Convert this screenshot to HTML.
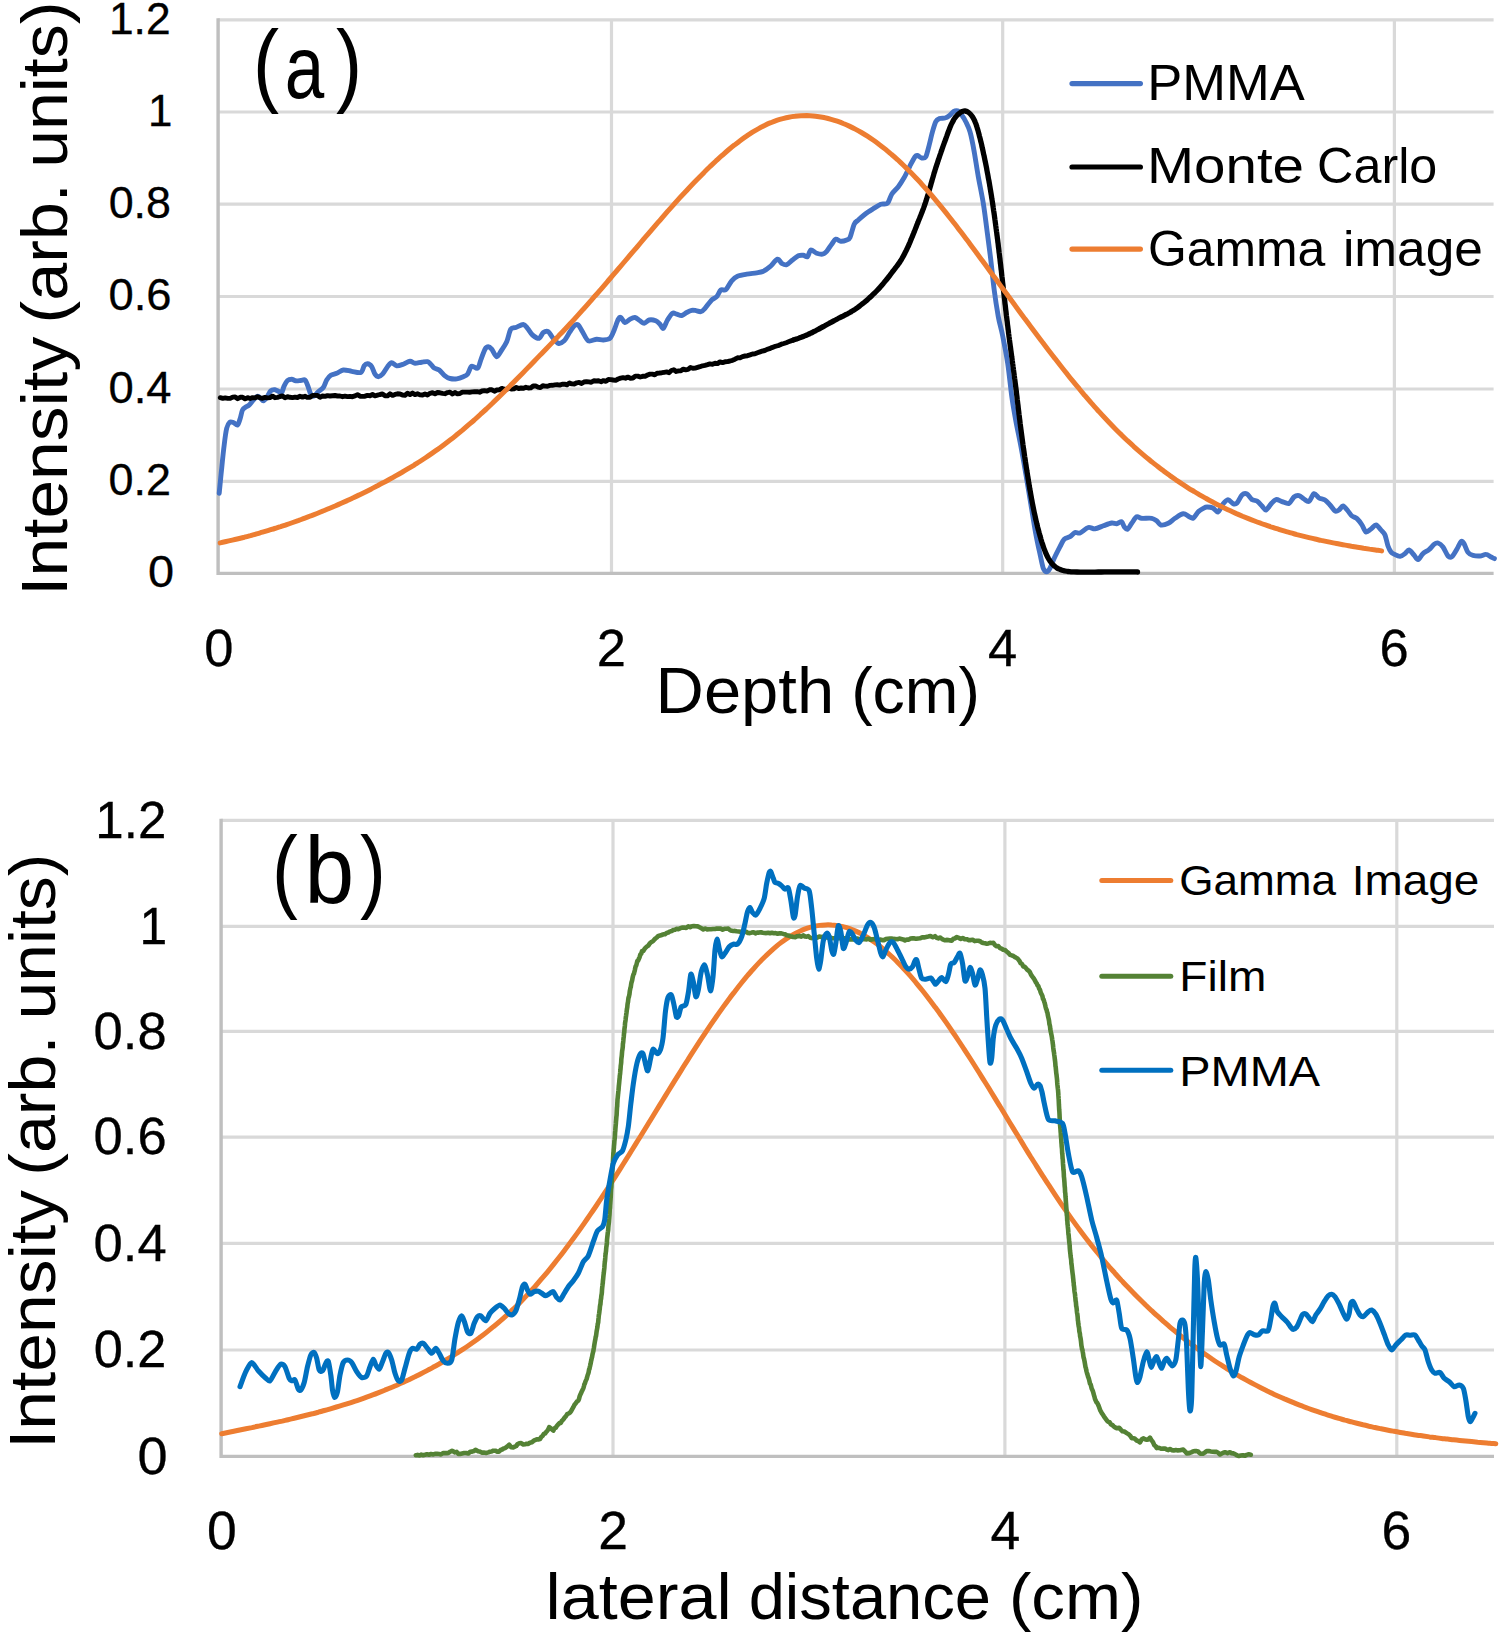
<!DOCTYPE html>
<html lang="en"><head><meta charset="utf-8"><title>Depth and lateral intensity profiles</title>
<style>
html,body{margin:0;padding:0;background:#fff}
svg{display:block}
text{font-family:"Liberation Sans",Arial,sans-serif;fill:#000}
.tk text{stroke:#000;stroke-width:.3px}
.g{stroke:#d9d9d9;stroke-width:3.2;fill:none;stroke-linecap:butt}
.ax{stroke:#bfbfbf;stroke-width:3.4;fill:none}
.c{fill:none;stroke-linejoin:round;stroke-linecap:round}
</style></head><body>
<svg width="1500" height="1638" viewBox="0 0 1500 1638">
<rect width="1500" height="1638" fill="#fff"/>
<g id="chart-a">
<path class="g" d="M218.1 19.8H1493.6 M218.1 112.0H1493.6 M218.1 204.2H1493.6 M218.1 296.5H1493.6 M218.1 389.0H1493.6 M218.1 481.3H1493.6 M611.5 18.3V573.4 M1002.7 18.3V573.4 M1394.4 18.3V573.4"/>
<path class="ax" d="M218.1 18.2V575.1 M216.4 573.4H1493.6"/>
<path class="c" stroke="#4472c4" stroke-width="4.9" d="M219.2 493.3 C219.6 489.6 220.9 475.5 221.7 468.3 C222.4 461.1 223.4 451 224.2 445 C224.9 439 225.9 431.7 226.7 428.3 C227.5 424.9 228.7 423.1 229.7 422.2 C230.7 421.3 232.1 422.1 233.3 422.5 C234.5 422.9 236.5 425.5 237.5 425 C238.5 424.5 239.2 421.4 240 419.2 C240.8 416.9 241.6 411.8 242.5 410 C243.4 408.2 244.8 407.8 245.8 407 C246.8 406.2 248.1 406.1 249.2 405 C250.3 403.9 252.1 401.3 253.3 400 C254.5 398.7 256.4 396.6 257.5 396.3 C258.6 396 259.9 397.6 260.8 398.3 C261.7 399 262.4 400.9 263.3 400.8 C264.2 400.7 265.6 399 266.7 397.5 C267.8 396 269.6 392 270.8 390.8 C272 389.6 273.9 389.6 275 389.7 C276.1 389.8 277.3 390.9 278.3 391.3 C279.3 391.7 280.8 393.3 281.7 392.5 C282.6 391.7 283.3 387.6 284.2 385.8 C285.1 384 286.4 381.5 287.5 380.5 C288.6 379.5 290.5 379.2 291.7 379.2 C292.9 379.2 294.4 380.6 295.8 380.8 C297.2 381 299.4 380.6 300.8 380.5 C302.2 380.4 304 379.3 305 380 C306 380.7 306.6 382.9 307.5 385 C308.4 387.1 309.8 392.6 310.8 394.2 C311.8 395.8 313.1 396.4 314.2 396 C315.3 395.6 316.9 393 318.3 391.7 C319.7 390.4 322 389.3 323.3 387.5 C324.6 385.7 325.6 381.8 326.7 380 C327.8 378.2 329.3 376.3 330.8 375.3 C332.3 374.3 334.8 374.1 336.7 373.3 C338.6 372.5 341.1 370.3 343.3 370 C345.6 369.7 349.1 370.9 351.7 371.3 C354.3 371.7 358.9 373.3 360.8 372.5 C362.7 371.7 363.2 367.1 364.2 365.8 C365.2 364.5 366.4 363.7 367.5 363.8 C368.6 363.9 370.6 365.1 371.7 366.7 C372.8 368.3 374 372.7 375 374.2 C376 375.7 377.2 376.7 378.3 376.7 C379.4 376.7 381.1 375.7 382.5 374.2 C383.9 372.7 386.1 368.4 387.5 366.7 C388.9 365 390.3 362.9 391.7 362.8 C393.1 362.7 395 365.6 396.7 365.8 C398.4 366 401.3 364.9 403.3 364.2 C405.3 363.5 408.2 361.3 410 361.2 C411.8 361.1 413.2 363.2 415 363.3 C416.8 363.4 419.8 362.4 421.7 362.2 C423.6 362 426.1 361.4 427.5 361.7 C428.9 362 429.8 363.3 430.8 364.2 C431.8 365.1 432.9 367.1 434.2 368 C435.5 368.9 437.6 368.8 439.2 370 C440.8 371.2 443.4 374.5 445 375.8 C446.6 377.1 448.2 378.1 450 378.5 C451.8 378.9 454.7 379.1 456.7 378.8 C458.7 378.5 461.7 377.4 463.3 376.7 C464.9 376 466.2 375.8 467.5 374.2 C468.8 372.6 470.2 367.1 471.7 366.2 C473.2 365.3 476.1 369.2 477.5 368.3 C478.9 367.4 479.7 362.9 480.8 360 C481.9 357.1 483.9 351.2 485 349.2 C486.1 347.2 487.3 346.7 488.3 346.7 C489.3 346.7 490.4 347.7 491.7 349.2 C493 350.7 495.2 356.6 496.7 356.7 C498.2 356.8 500.2 352.2 501.7 350 C503.2 347.8 505.3 344.8 506.7 341.7 C508.1 338.6 509.4 331.3 510.8 329.2 C512.2 327.1 513.9 328.2 515.8 327.5 C517.7 326.8 521.5 324.4 523.3 324.5 C525.1 324.6 526.1 326.7 527.5 328.3 C528.9 329.9 530.7 333.5 532.5 335 C534.3 336.5 537.6 338.7 539.2 338.3 C540.8 337.9 541.9 333.5 543.3 332.5 C544.7 331.5 546.9 330.9 548.3 331.7 C549.7 332.4 551 335.8 552.5 337.5 C554 339.2 556.5 342.8 558.3 343.3 C560.1 343.8 562.4 342.5 564.2 340.8 C566 339.1 568.5 333.9 570 331.7 C571.5 329.4 573 326.8 574.2 325.8 C575.4 324.8 577.1 324.1 578.3 325 C579.5 325.9 581 329.3 582.5 331.7 C584 334.1 586.2 339.7 588.3 340.8 C590.4 341.9 594.5 339.3 596.7 339.2 C599 339.1 601.3 340.1 603.3 340 C605.3 339.9 608.4 339.8 610 338.3 C611.6 336.8 613 332.9 614.2 330 C615.4 327.1 617.3 321.1 618.3 319.2 C619.3 317.3 619.8 317 620.8 317.5 C621.8 318 623.6 322.2 625 322.5 C626.4 322.8 628.5 319.9 630 319.2 C631.5 318.4 633.5 317.3 635 317.5 C636.5 317.7 638.6 319.9 640 320.8 C641.4 321.7 642.8 323.4 644.2 323.3 C645.6 323.2 647.5 320.4 649.2 320 C650.9 319.6 654.2 320.2 655.8 320.8 C657.4 321.4 658.9 323.1 660 324.2 C661.1 325.3 662.2 328.9 663.3 328.3 C664.4 327.7 666.1 322.2 667.5 320 C668.9 317.8 671.1 314.2 672.5 313.3 C673.9 312.4 675.3 313.9 676.7 314.2 C678.1 314.5 680.2 315.8 681.7 315.5 C683.2 315.2 685.2 313.3 686.7 312.5 C688.2 311.7 690.3 310.6 691.7 310.3 C693.1 310 694.6 310.4 696 310.6 C697.4 310.8 699.4 312 700.8 311.7 C702.1 311.4 703.4 310.1 705 308.3 C706.6 306.5 709.9 301.7 711.7 300 C713.5 298.3 715.3 298.2 716.7 296.7 C718.1 295.2 719.4 291.1 720.8 290 C722.2 288.9 724.2 291.1 725.8 289.7 C727.4 288.3 729.9 282.8 731.7 280.8 C733.5 278.8 735.2 277.3 737.5 276.3 C739.8 275.3 743.8 274.7 746.7 274.2 C749.6 273.7 754.2 273.2 756.7 272.8 C759.2 272.4 761.3 272.2 763.3 271.3 C765.3 270.4 767.9 268.5 770 266.7 C772.1 264.9 775.7 259.7 777.5 259.2 C779.3 258.7 780.3 262.5 781.7 263.3 C783.1 264.1 785.1 265.2 786.7 264.7 C788.3 264.2 790.8 261.3 792.5 260 C794.2 258.7 796.7 256.5 798.3 255.8 C799.9 255.1 801.9 255.2 803.3 255.3 C804.7 255.4 806.4 257.5 807.5 256.7 C808.6 255.9 809.4 250.5 810.8 250 C812.2 249.5 814.9 252.7 816.7 253.3 C818.5 253.9 821 254.5 822.5 254.2 C824 253.9 825.3 252.8 826.7 251.3 C828.1 249.8 830.3 246 831.7 244.2 C833.1 242.4 834.4 239.6 835.8 239.2 C837.2 238.8 839.2 241.2 840.8 241.3 C842.4 241.4 845.3 240.6 846.7 240 C848.1 239.4 848.9 239.9 850 237.5 C851.1 235.1 853 226.8 854.2 224.2 C855.4 221.6 856.7 221.5 858.3 220 C859.9 218.5 862.8 215.9 865 214.2 C867.2 212.5 870.9 210.2 873.3 208.7 C875.7 207.2 878.7 205 880.8 204.2 C882.9 203.4 885.9 204.8 887.5 203.3 C889.1 201.8 890.1 196.7 891.7 194.2 C893.3 191.7 896.4 189.2 898.3 186.7 C900.2 184.2 902.4 180.6 904.2 177.5 C906 174.4 908.4 168.9 910 165.8 C911.6 162.7 913.9 158.2 915 156.7 C916.1 155.2 916.5 155.3 917.5 155.5 C918.5 155.7 920.5 157.8 921.7 158 C922.9 158.2 924.7 158.6 925.8 156.7 C926.9 154.8 928.2 148.8 929.2 145 C930.2 141.2 931.5 135.2 932.5 131.7 C933.5 128.2 934.8 123.7 935.8 121.7 C936.8 119.7 938.1 119.1 939.5 118.5 C940.9 117.9 943.5 118.4 945 118 C946.5 117.6 948 116.7 949.2 115.8 C950.4 114.9 952.1 112.5 953.3 111.7 C954.5 111 956.2 110.3 957.5 110.8 C958.8 111.3 960.5 113.4 961.7 115 C962.9 116.6 964.6 119.2 965.8 121.7 C967 124.2 968.7 127.2 970 131.7 C971.3 136.2 973 144.9 974.2 151.7 C975.4 158.4 976.9 169 978.3 176.7 C979.7 184.4 982 195.6 983.3 203.3 C984.6 211 985.6 219.8 986.7 228.3 C987.8 236.8 989.7 250.7 990.8 260 C991.9 269.3 993.1 281.5 994.2 290 C995.3 298.5 997.1 309.9 998.3 316.7 C999.5 323.4 1001.1 328 1002.5 335 C1003.9 342 1006.3 354 1007.7 363.3 C1009.1 372.6 1010.6 387.9 1011.8 396.7 C1013 405.5 1014.6 414.2 1016 421.7 C1017.4 429.2 1019.5 438.7 1021 446.7 C1022.5 454.7 1024.5 466.3 1026 475 C1027.5 483.7 1029.5 496 1031 505 C1032.5 514 1034.6 527.5 1036 535 C1037.4 542.5 1039.1 550 1040.2 555 C1041.3 560 1042.3 565.8 1043.3 568.3 C1044.3 570.8 1045.7 571.7 1046.7 571.7 C1047.7 571.7 1048.9 570.3 1050 568.3 C1051.1 566.3 1052.7 561.5 1054.2 558.3 C1055.7 555.1 1058.5 549.6 1060 546.7 C1061.5 543.8 1062.7 540.7 1064.2 539.2 C1065.7 537.7 1068.4 537.7 1070 536.7 C1071.6 535.7 1073.5 533.1 1075 532.5 C1076.5 531.9 1078 533.8 1080 533 C1082 532.2 1086 528.1 1088.3 527.5 C1090.5 526.9 1092.8 529.1 1095 528.8 C1097.2 528.5 1100.8 526.7 1103.3 525.8 C1105.8 524.9 1109.7 523.3 1111.7 523 C1113.7 522.7 1115.2 523.9 1116.7 523.7 C1118.2 523.5 1120.6 521.2 1121.7 521.7 C1122.8 522.2 1123.3 525.6 1124.2 526.7 C1125.1 527.8 1126.4 529.7 1127.5 529.2 C1128.6 528.7 1130.3 525.2 1131.7 523.3 C1133.1 521.4 1135.2 517.5 1136.7 516.7 C1138.2 516 1139.5 518.1 1141.7 518.3 C1144 518.5 1149.5 517.9 1151.7 518.3 C1154 518.7 1155.3 519.8 1156.7 520.8 C1158.1 521.8 1159.1 524.6 1160.8 525 C1162.5 525.4 1166.2 524.3 1168.3 523.3 C1170.4 522.3 1172.8 519.7 1175 518.3 C1177.2 516.9 1181.2 514 1183.3 513.8 C1185.4 513.6 1187.7 516.1 1189.2 516.7 C1190.7 517.3 1191.9 518.8 1193.3 518 C1194.7 517.2 1196.8 513.2 1198.3 511.7 C1199.8 510.2 1202 509 1203.3 508.3 C1204.6 507.6 1205.5 507 1207 507 C1208.5 507 1211.3 507.2 1213 508 C1214.7 508.8 1216.5 512.6 1218 512 C1219.5 511.4 1221.5 505.9 1223 504 C1224.5 502.1 1226.5 499.7 1228 499.6 C1229.5 499.5 1231.7 503.1 1233 503.6 C1234.3 504.1 1235.7 504.3 1237 503 C1238.3 501.7 1240.5 496.4 1242 495 C1243.5 493.6 1245.5 493.3 1247 494 C1248.5 494.7 1250.5 498.6 1252 499.6 C1253.5 500.7 1255.5 500 1257 501 C1258.5 502 1260.7 504.6 1262 506 C1263.3 507.4 1264.7 510.3 1266 510 C1267.3 509.7 1269.5 505.6 1271 504 C1272.5 502.4 1274.3 500 1276 499.6 C1277.7 499.2 1280 501 1282 501.6 C1284 502.2 1287.2 504.1 1289 503.4 C1290.8 502.7 1292.5 498.2 1294 497 C1295.5 495.8 1297.5 495.3 1299 495.6 C1300.5 495.9 1302.5 498.1 1304 499 C1305.5 499.9 1307.5 502.2 1309 501.4 C1310.5 500.6 1312.5 494.1 1314 493.6 C1315.5 493.1 1317.3 497 1319 498 C1320.7 499 1323.3 498.9 1325 500 C1326.7 501.1 1328.5 503.4 1330 505 C1331.5 506.6 1333.7 510.2 1335 511 C1336.3 511.8 1337.8 510.8 1339 510 C1340.2 509.2 1341.7 505.9 1343 506 C1344.3 506.1 1346.7 509.5 1348 511 C1349.3 512.5 1350.7 514.9 1352 516 C1353.3 517.1 1355.5 517.2 1357 518.6 C1358.5 520 1360.7 523 1362 525 C1363.3 527 1364.7 531.4 1366 532 C1367.3 532.6 1369.5 530 1371 529 C1372.5 528 1374.5 524.9 1376 525 C1377.5 525.1 1379.7 528.5 1381 530 C1382.3 531.5 1384 532.6 1385 535 C1386 537.4 1387.1 543.5 1388 546 C1388.9 548.5 1390 550.7 1391 552 C1392 553.3 1393.7 553.9 1395 554.6 C1396.3 555.3 1398.5 556.5 1400 556.4 C1401.5 556.2 1403.7 554.6 1405 553.6 C1406.3 552.6 1407.7 549.8 1409 550 C1410.3 550.2 1412.7 553.6 1414 555 C1415.3 556.4 1416.7 559.8 1418 559.6 C1419.3 559.4 1421.3 555.1 1423 553.6 C1424.7 552.1 1427.3 551 1429 549.6 C1430.7 548.2 1432.7 545.4 1434 544.4 C1435.3 543.4 1436.7 542.6 1438 543 C1439.3 543.4 1441.5 545 1443 547 C1444.5 549 1446.7 554.6 1448 556 C1449.3 557.4 1450.7 557.6 1452 556.6 C1453.3 555.6 1455.7 551.2 1457 549 C1458.3 546.8 1460 542.4 1461 541.6 C1462 540.8 1463 542 1464 543.6 C1465 545.2 1466.7 550.6 1468 552.4 C1469.3 554.2 1471.2 554.9 1473 555.4 C1474.8 555.9 1478 556.1 1480 556 C1482 555.9 1484.3 554.2 1486 554.4 C1487.7 554.5 1489.7 556.4 1491 557 C1492.3 557.6 1493.9 558.4 1494.4 558.6"/>
<path class="c" stroke="#000" stroke-width="4.9" d="M220.3 397.7 L222.8 398.4 L225.3 397.9 L227.7 398.4 L230.2 398.4 L232.7 397.1 L235.2 396.9 L237.7 398.7 L240.2 397.3 L242.6 397.2 L245.1 398.9 L247.6 397.7 L250.1 398.5 L252.6 397.6 L255 397.9 L257.5 396.7 L260 397.8 L262.5 398.3 L265 397.4 L267.5 397.9 L270 397.6 L272.5 396.2 L275 397.7 L277.5 397.3 L280 396.5 L282.5 395.9 L285 397.7 L287.5 396.7 L290 397.3 L292.5 397.6 L295 397.1 L297.5 397.5 L300 396.3 L302.5 397.1 L305 396.3 L307.5 397.4 L310 397.2 L312.5 395.4 L315 395.4 L317.5 395.5 L320 397.2 L322.5 396 L325 396.4 L327.5 395.6 L330 396 L332.5 395.7 L335 395.5 L337.5 396 L340 396 L342.5 396.7 L345 396.1 L347.5 396.6 L350 396.4 L352.5 396.7 L355 395.9 L357.5 394.7 L360 396.2 L362.5 396.4 L365 396.2 L367.5 395.4 L370 395.7 L372.5 394.5 L375 395.9 L377.5 395.2 L380 394.5 L382.5 393.9 L385 395.7 L387.5 395.9 L390 393.8 L392.5 395.4 L395 394.4 L397.5 393.8 L400 394 L402.5 395.1 L405 395.2 L407.5 393.3 L410 394.5 L412.5 393.1 L415 394.6 L417.5 393.7 L420 394.9 L422.5 395 L425 393.9 L427.5 395 L430 393.3 L432.5 392.7 L435 393.9 L437.5 392.5 L440 392.8 L442.5 393.3 L445 393.7 L447.5 392.6 L450 392.2 L452.5 394 L454.9 392.5 L457.4 393.8 L459.9 393.5 L462.3 392.1 L464.8 392.1 L467.3 392.1 L469.7 392.2 L472.2 391.9 L474.7 391.7 L477.1 391.6 L479.6 392.2 L482 391 L484.5 390.6 L487 391.1 L489.4 389.8 L491.9 389.8 L494.4 391.2 L496.8 390 L499.3 389.8 L501.8 388.4 L504.2 389.2 L506.7 389.4 L509.1 387.9 L511.5 389.1 L513.9 388.9 L516.3 387.4 L518.7 388.5 L521.1 388 L523.5 388.3 L525.9 387.3 L528.4 388 L530.8 387.9 L533.2 386 L535.6 385.9 L538 387.1 L540.4 387.6 L542.8 385.8 L545.2 386.1 L547.6 386.2 L550 385.4 L552.4 385.3 L554.9 384.9 L557.3 384.8 L559.7 385.1 L562.2 384.2 L564.6 384.1 L567 384.8 L569.5 382.9 L571.9 383.9 L574.3 384 L576.8 382.8 L579.2 382.4 L581.6 383.5 L584 382 L586.5 381.6 L588.9 381.9 L591.3 382.3 L593.8 380.7 L596.2 381 L598.6 380.8 L601.1 381.7 L603.5 380.6 L605.9 381.3 L608.4 379.5 L610.8 379.6 L613.2 380 L615.7 380.3 L618.1 379 L620.6 378.1 L623 377.6 L625.5 378.2 L627.9 377.1 L630.4 378.2 L632.9 378 L635.3 376.1 L637.8 376.1 L640.2 377 L642.6 376.3 L645.1 376.3 L647.5 375 L650 374.1 L652.4 374.1 L654.8 374.8 L657.1 373.2 L659.5 373 L661.9 372.7 L664.3 372.3 L666.6 371.9 L669 372.7 L671.4 370.5 L673.8 369.7 L676.2 371.5 L678.5 370.9 L680.9 370.7 L683.3 369.1 L685.7 369.8 L688.1 369.4 L690.5 367.5 L692.8 368.3 L695.2 368.1 L697.6 367.4 L700 366.7 L702.5 365.8 L705 365.4 L707.5 364.7 L710 363.9 L712.5 364.3 L715 363.3 L717.5 363.6 L720 361.9 L722.5 362.6 L725 361.8 L727.5 361.6 L730 361 L732.5 360.3 L735 359.2 L737.5 357.8 L740 357.9 L742.5 356.6 L745 356 L747.5 355.7 L750 354.9 L752.5 354 L755 353.8 L757.5 352.8 L760 351.9 L762.4 351 L764.8 350.5 L767.1 349.4 L769.5 348.7 L771.9 347.6 L774.3 346.7 L776.6 346 L779 345.3 L781.4 344.2 L783.8 343.5 L786.2 342.7 L788.5 341.8 L790.9 340.9 L793.3 340"/>
<path class="c" stroke="#000" stroke-width="5.3" d="M793.3 340 C793.8 339.8 795.2 339.4 796.2 339.1 C797.2 338.8 798.1 338.5 799.1 338.1 C800 337.8 801 337.4 801.9 337.1 C802.8 336.7 803.8 336.3 804.7 335.9 C805.6 335.5 806.5 335.1 807.5 334.7 C808.4 334.3 809.3 333.9 810.2 333.4 C811.1 333 812 332.6 812.9 332.1 C813.8 331.7 814.7 331.2 815.6 330.8 C816.5 330.3 817.4 329.8 818.3 329.3 C819.1 328.9 820 328.4 820.9 327.9 C821.8 327.4 822.7 326.9 823.6 326.5 C824.5 326 825.3 325.5 826.2 325 C827.1 324.5 828 324 828.9 323.5 C829.7 323 830.6 322.6 831.5 322.1 C832.4 321.6 833.3 321.1 834.2 320.6 C835.1 320.2 836 319.7 836.8 319.2 C837.7 318.7 838.6 318.3 839.5 317.8 C840.4 317.4 841.3 316.9 842.2 316.5 C843.1 316 844 315.6 844.9 315.1 C845.8 314.7 846.7 314.2 847.6 313.8 C848.5 313.3 849.4 312.8 850.3 312.3 C851.1 311.8 852 311.3 852.8 310.7 C853.7 310.2 854.5 309.7 855.4 309.1 C856.2 308.5 857 307.9 857.8 307.4 C858.6 306.8 859.4 306.2 860.2 305.5 C861 304.9 861.8 304.3 862.6 303.7 C863.4 303 864.2 302.4 865 301.7 C865.7 301.1 866.5 300.4 867.3 299.8 C868 299.1 868.8 298.4 869.5 297.8 C870.3 297.1 871 296.4 871.8 295.7 C872.5 295 873.2 294.3 874 293.6 C874.7 292.9 875.4 292.2 876.1 291.5 C876.8 290.8 877.5 290.1 878.2 289.3 C878.9 288.6 879.5 287.8 880.2 287.1 C880.9 286.3 881.5 285.6 882.2 284.8 C882.8 284 883.5 283.3 884.1 282.5 C884.8 281.7 885.4 280.9 886 280.2 C886.7 279.4 887.3 278.6 887.9 277.8 C888.5 277 889.1 276.2 889.8 275.4 C890.4 274.6 891 273.8 891.6 273 C892.2 272.2 892.8 271.4 893.5 270.6 C894.1 269.8 894.7 269 895.3 268.2 C895.9 267.4 896.5 266.6 897.1 265.8 C897.7 265 898.3 264.2 898.9 263.3 C899.5 262.5 900 261.7 900.6 260.8 C901.1 260 901.6 259.1 902.1 258.3 C902.6 257.4 903.1 256.5 903.6 255.6 C904.1 254.7 904.6 253.8 905 252.9 C905.5 252 905.9 251.1 906.4 250.2 C906.8 249.3 907.2 248.4 907.6 247.5 C908.1 246.6 908.5 245.7 908.9 244.7 C909.3 243.8 909.7 242.9 910.1 242 C910.5 241 910.8 240.1 911.2 239.2 C911.6 238.2 912 237.3 912.4 236.4 C912.7 235.4 913.1 234.5 913.5 233.6 C913.9 232.6 914.2 231.7 914.6 230.8 C915 229.8 915.4 228.9 915.7 228 C916.1 227 916.5 226.1 916.8 225.2 C917.2 224.2 917.6 223.3 918 222.3 C918.3 221.4 918.7 220.5 919.1 219.5 C919.5 218.6 919.8 217.7 920.2 216.7 C920.6 215.8 921 214.9 921.3 213.9 C921.7 213 922.1 212 922.4 211.1 C922.8 210.2 923.1 209.2 923.5 208.3 C923.8 207.3 924.2 206.4 924.5 205.4 C924.8 204.5 925.2 203.5 925.5 202.6 C925.8 201.6 926.1 200.7 926.4 199.7 C926.7 198.8 927 197.8 927.3 196.8 C927.6 195.9 927.9 194.9 928.2 194 C928.5 193 928.7 192 929 191.1 C929.3 190.1 929.6 189.1 929.8 188.2 C930.1 187.2 930.4 186.2 930.7 185.2 C930.9 184.3 931.2 183.3 931.5 182.3 C931.8 181.4 932 180.4 932.3 179.4 C932.6 178.5 932.9 177.5 933.2 176.5 C933.4 175.5 933.7 174.6 934 173.6 C934.3 172.6 934.6 171.7 934.9 170.7 C935.2 169.7 935.5 168.8 935.8 167.8 C936.1 166.8 936.4 165.9 936.7 164.9 C937.1 164 937.4 163 937.7 162 C938 161.1 938.3 160.1 938.6 159.2 C939 158.2 939.3 157.3 939.6 156.3 C939.9 155.4 940.3 154.4 940.6 153.5 C940.9 152.5 941.2 151.6 941.6 150.6 C941.9 149.7 942.2 148.8 942.5 147.8 C942.9 146.9 943.2 145.9 943.5 145 C943.9 144.1 944.2 143.1 944.5 142.2 C944.9 141.3 945.2 140.3 945.6 139.4 C945.9 138.4 946.2 137.5 946.6 136.6 C946.9 135.6 947.3 134.7 947.6 133.7 C948 132.7 948.3 131.8 948.7 130.8 C949.1 129.9 949.4 128.9 949.8 127.9 C950.2 127 950.6 126 951 125 C951.4 124.1 951.9 123.2 952.4 122.3 C952.8 121.4 953.3 120.5 953.8 119.6 C954.4 118.8 954.9 117.9 955.6 117.1 C956.2 116.4 956.8 115.6 957.5 114.9 C958.2 114.2 959 113.5 959.8 113 C960.6 112.4 961.5 111.8 962.3 111.4 C963.2 111.1 964.2 110.9 965.1 111 C966.1 111.1 967.1 111.5 967.9 112 C968.8 112.5 969.6 113.3 970.3 114 C971.1 114.8 971.7 115.7 972.3 116.5 C972.9 117.4 973.4 118.3 973.9 119.2 C974.4 120.1 974.8 121 975.1 121.9 C975.5 122.9 975.9 123.8 976.2 124.7 C976.5 125.7 976.8 126.6 977.1 127.6 C977.4 128.5 977.7 129.5 978 130.5 C978.2 131.4 978.5 132.4 978.8 133.4 C979 134.3 979.3 135.3 979.5 136.3 C979.8 137.2 980 138.2 980.3 139.2 C980.5 140.2 980.7 141.2 981 142.1 C981.2 143.1 981.4 144.1 981.7 145.1 C981.9 146.1 982.1 147.1 982.3 148 C982.6 149 982.8 150 983 151 C983.2 152 983.4 153 983.6 154 C983.8 154.9 984.1 155.9 984.3 156.9 C984.5 157.9 984.7 158.9 984.9 159.9 C985.1 160.9 985.3 161.8 985.5 162.8 C985.7 163.8 985.9 164.8 986.1 165.8 C986.3 166.8 986.5 167.8 986.7 168.8 C986.8 169.8 987 170.7 987.2 171.7 C987.4 172.7 987.6 173.7 987.8 174.7 C988 175.7 988.1 176.7 988.3 177.7 C988.5 178.7 988.7 179.7 988.9 180.6 C989 181.6 989.2 182.6 989.4 183.6 C989.6 184.6 989.7 185.6 989.9 186.6 C990.1 187.6 990.2 188.6 990.4 189.6 C990.6 190.6 990.7 191.6 990.9 192.5 C991 193.5 991.2 194.5 991.4 195.5 C991.5 196.5 991.7 197.5 991.8 198.5 C992 199.5 992.2 200.5 992.3 201.5 C992.5 202.5 992.6 203.5 992.8 204.5 C992.9 205.5 993.1 206.5 993.2 207.5 C993.4 208.5 993.5 209.5 993.6 210.5 C993.8 211.4 993.9 212.4 994.1 213.4 C994.2 214.4 994.4 215.4 994.5 216.4 C994.6 217.4 994.8 218.4 994.9 219.4 C995.1 220.4 995.2 221.4 995.3 222.4 C995.5 223.4 995.6 224.4 995.7 225.4 C995.9 226.4 996 227.4 996.1 228.4 C996.3 229.4 996.4 230.4 996.5 231.4 C996.7 232.4 996.8 233.4 996.9 234.4 C997 235.4 997.2 236.4 997.3 237.4 C997.4 238.4 997.6 239.4 997.7 240.4 C997.8 241.4 997.9 242.4 998.1 243.4 C998.2 244.4 998.3 245.4 998.4 246.4 C998.5 247.4 998.7 248.4 998.8 249.4 C998.9 250.4 999 251.4 999.1 252.4 C999.3 253.4 999.4 254.4 999.5 255.4 C999.6 256.4 999.7 257.4 999.9 258.4 C1000 259.4 1000.1 260.4 1000.2 261.4 C1000.3 262.4 1000.4 263.4 1000.6 264.4 C1000.7 265.4 1000.8 266.4 1000.9 267.4 C1001 268.4 1001.1 269.4 1001.3 270.4 C1001.4 271.4 1001.5 272.4 1001.6 273.4 C1001.7 274.4 1001.8 275.4 1001.9 276.4 C1002.1 277.4 1002.2 278.4 1002.3 279.4 C1002.4 280.4 1002.5 281.4 1002.6 282.4 C1002.7 283.4 1002.9 284.4 1003 285.4 C1003.1 286.4 1003.2 287.4 1003.3 288.4 C1003.4 289.4 1003.5 290.4 1003.7 291.4 C1003.8 292.4 1003.9 293.4 1004 294.4 C1004.1 295.4 1004.2 296.4 1004.3 297.4 C1004.5 298.4 1004.6 299.4 1004.7 300.4 C1004.8 301.4 1004.9 302.4 1005 303.4 C1005.1 304.4 1005.3 305.4 1005.4 306.4 C1005.5 307.4 1005.6 308.4 1005.7 309.4 C1005.8 310.4 1006 311.4 1006.1 312.4 C1006.2 313.4 1006.3 314.4 1006.4 315.4 C1006.6 316.4 1006.7 317.4 1006.8 318.4 C1006.9 319.4 1007 320.4 1007.2 321.4 C1007.3 322.4 1007.4 323.4 1007.5 324.4 C1007.6 325.4 1007.8 326.4 1007.9 327.4 C1008 328.4 1008.1 329.4 1008.3 330.4 C1008.4 331.4 1008.5 332.4 1008.6 333.4 C1008.8 334.4 1008.9 335.4 1009 336.4 C1009.2 337.4 1009.3 338.4 1009.4 339.4 C1009.6 340.4 1009.7 341.4 1009.8 342.4 C1009.9 343.4 1010.1 344.4 1010.2 345.4 C1010.3 346.3 1010.5 347.3 1010.6 348.3 C1010.7 349.3 1010.9 350.3 1011 351.3 C1011.1 352.3 1011.3 353.3 1011.4 354.3 C1011.5 355.3 1011.7 356.3 1011.8 357.3 C1012 358.3 1012.1 359.3 1012.2 360.3 C1012.4 361.3 1012.5 362.3 1012.6 363.3 C1012.8 364.3 1012.9 365.3 1013 366.3 C1013.2 367.3 1013.3 368.3 1013.4 369.3 C1013.6 370.3 1013.7 371.3 1013.8 372.3 C1014 373.3 1014.1 374.3 1014.2 375.3 C1014.4 376.3 1014.5 377.3 1014.6 378.3 C1014.8 379.3 1014.9 380.3 1015 381.3 C1015.1 382.3 1015.3 383.3 1015.4 384.3 C1015.5 385.3 1015.7 386.3 1015.8 387.3 C1015.9 388.3 1016 389.3 1016.2 390.3 C1016.3 391.3 1016.4 392.3 1016.5 393.3 C1016.6 394.3 1016.8 395.3 1016.9 396.3 C1017 397.3 1017.1 398.3 1017.2 399.3 C1017.4 400.3 1017.5 401.3 1017.6 402.3 C1017.7 403.3 1017.8 404.3 1018 405.3 C1018.1 406.3 1018.2 407.3 1018.3 408.3 C1018.4 409.3 1018.6 410.3 1018.7 411.3 C1018.8 412.3 1018.9 413.3 1019 414.3 C1019.2 415.3 1019.3 416.3 1019.4 417.3 C1019.5 418.3 1019.6 419.3 1019.8 420.3 C1019.9 421.3 1020 422.3 1020.1 423.3 C1020.3 424.2 1020.4 425.2 1020.5 426.2 C1020.6 427.2 1020.8 428.2 1020.9 429.2 C1021 430.2 1021.2 431.2 1021.3 432.2 C1021.4 433.2 1021.6 434.2 1021.7 435.2 C1021.8 436.2 1022 437.2 1022.1 438.2 C1022.2 439.2 1022.4 440.2 1022.5 441.2 C1022.6 442.2 1022.8 443.2 1022.9 444.2 C1023.1 445.2 1023.2 446.2 1023.3 447.2 C1023.5 448.2 1023.6 449.2 1023.8 450.2 C1023.9 451.2 1024.1 452.2 1024.2 453.2 C1024.3 454.2 1024.5 455.2 1024.6 456.2 C1024.8 457.2 1024.9 458.1 1025.1 459.1 C1025.2 460.1 1025.4 461.1 1025.5 462.1 C1025.7 463.1 1025.8 464.1 1026 465.1 C1026.1 466.1 1026.3 467.1 1026.4 468.1 C1026.6 469.1 1026.8 470.1 1026.9 471.1 C1027.1 472.1 1027.2 473.1 1027.4 474.1 C1027.5 475.1 1027.7 476.1 1027.9 477 C1028 478 1028.2 479 1028.3 480 C1028.5 481 1028.7 482 1028.8 483 C1029 484 1029.2 485 1029.3 486 C1029.5 487 1029.7 488 1029.8 489 C1030 490 1030.2 491 1030.4 492 C1030.5 492.9 1030.7 493.9 1030.9 494.9 C1031.1 495.9 1031.2 496.9 1031.4 497.9 C1031.6 498.9 1031.8 499.9 1032 500.9 C1032.2 501.9 1032.3 502.9 1032.5 503.8 C1032.7 504.8 1032.9 505.8 1033.1 506.8 C1033.3 507.8 1033.5 508.8 1033.7 509.8 C1033.9 510.8 1034.1 511.7 1034.3 512.7 C1034.5 513.7 1034.8 514.7 1035 515.7 C1035.2 516.7 1035.4 517.6 1035.6 518.6 C1035.8 519.6 1036.1 520.6 1036.3 521.6 C1036.5 522.5 1036.8 523.5 1037 524.5 C1037.3 525.5 1037.5 526.5 1037.7 527.4 C1038 528.4 1038.2 529.4 1038.5 530.3 C1038.8 531.3 1039 532.3 1039.3 533.3 C1039.6 534.2 1039.8 535.2 1040.1 536.2 C1040.4 537.1 1040.7 538.1 1040.9 539.1 C1041.2 540 1041.5 541 1041.8 542 C1042.1 542.9 1042.4 543.9 1042.7 544.8 C1043.1 545.8 1043.4 546.8 1043.7 547.7 C1044 548.7 1044.4 549.6 1044.8 550.5 C1045.1 551.5 1045.5 552.4 1045.9 553.3 C1046.3 554.3 1046.7 555.2 1047.2 556.1 C1047.6 557 1048.1 557.9 1048.6 558.8 C1049.1 559.6 1049.6 560.5 1050.2 561.3 C1050.8 562.2 1051.4 563 1052.1 563.7 C1052.8 564.5 1053.5 565.2 1054.2 565.9 C1055 566.5 1055.8 567.2 1056.6 567.7 C1057.5 568.3 1058.4 568.8 1059.3 569.2 C1060.2 569.6 1061.1 570 1062.1 570.3 C1063.1 570.6 1064.1 570.8 1065 571 C1066 571.2 1067 571.4 1068 571.5 C1069 571.6 1070.1 571.7 1071.1 571.8 C1072.1 571.9 1073.1 571.9 1074.1 571.9 C1075.1 572 1076.1 572 1077.1 572 C1078.1 572 1079.1 572 1080.1 572.1 C1081.1 572.1 1082.1 572.1 1083.1 572.1 C1084.1 572.1 1085.1 572.1 1086.2 572.1 C1087.2 572.1 1088.2 572.1 1089.2 572.1 C1090.2 572.1 1091.2 572.1 1092.2 572.1 C1093.2 572.1 1094.2 572.1 1095.2 572.1 C1096.2 572 1097.2 572 1098.2 572 C1099.2 572 1100.2 572 1101.3 572 C1102.3 572 1103.3 572 1104.3 571.9 C1105.3 571.9 1106.3 571.9 1107.3 571.9 C1108.3 571.9 1109.3 571.9 1110.3 571.9 C1111.3 571.9 1112.3 571.8 1113.3 571.8 C1114.3 571.8 1115.4 571.8 1116.4 571.8 C1117.4 571.8 1118.4 571.8 1119.4 571.8 C1120.4 571.8 1121.4 571.8 1122.4 571.8 C1123.4 571.8 1124.4 571.8 1125.4 571.8 C1126.4 571.8 1127.4 571.8 1128.4 571.8 C1129.4 571.8 1130.5 571.8 1131.5 571.9 C1132.5 571.9 1133.5 571.9 1134.5 571.9 C1135.5 571.9 1137 572 1137.5 572"/>
<path class="c" stroke="#ed7d31" stroke-width="5" d="M220.2 542.9 C221.2 542.7 224.2 542 226.2 541.5 C228.3 541.1 230.3 540.6 232.3 540.1 C234.3 539.7 236.3 539.2 238.3 538.7 C240.4 538.2 242.4 537.7 244.4 537.2 C246.4 536.6 248.4 536.1 250.4 535.6 C252.5 535 254.5 534.5 256.5 533.9 C258.5 533.3 260.5 532.8 262.5 532.2 C264.6 531.6 266.6 531 268.6 530.4 C270.6 529.8 272.6 529.1 274.6 528.5 C276.7 527.9 278.7 527.2 280.7 526.6 C282.7 525.9 284.7 525.3 286.7 524.6 C288.8 523.9 290.8 523.2 292.8 522.5 C294.8 521.8 296.8 521.1 298.8 520.4 C300.9 519.6 302.9 518.9 304.9 518.1 C306.9 517.4 308.9 516.6 310.9 515.8 C313 515.1 315 514.3 317 513.5 C319 512.7 321 511.9 323 511 C325 510.2 327.1 509.4 329.1 508.5 C331.1 507.7 333.1 506.8 335.1 506 C337.1 505.1 339.2 504.2 341.2 503.3 C343.2 502.4 345.2 501.5 347.2 500.6 C349.2 499.6 351.3 498.7 353.3 497.8 C355.3 496.8 357.3 495.8 359.3 494.9 C361.3 493.9 363.4 492.9 365.4 491.9 C367.4 490.9 369.4 489.9 371.4 488.9 C373.4 487.8 375.5 486.8 377.5 485.8 C379.5 484.7 381.5 483.6 383.5 482.6 C385.5 481.5 387.6 480.4 389.6 479.3 C391.6 478.2 393.6 477.1 395.6 475.9 C397.6 474.8 399.7 473.6 401.7 472.5 C403.7 471.3 405.7 470.1 407.7 468.9 C409.7 467.7 411.8 466.5 413.8 465.3 C415.8 464 417.8 462.8 419.8 461.5 C421.8 460.2 423.8 458.9 425.9 457.5 C427.9 456.2 429.9 454.8 431.9 453.4 C433.9 452 435.9 450.6 438 449.2 C440 447.7 442 446.3 444 444.7 C446 443.2 448 441.7 450.1 440.1 C452.1 438.6 454.1 437 456.1 435.3 C458.1 433.7 460.1 432.1 462.2 430.4 C464.2 428.7 466.2 427 468.2 425.2 C470.2 423.5 472.2 421.7 474.3 420 C476.3 418.2 478.3 416.4 480.3 414.5 C482.3 412.7 484.3 410.8 486.4 409 C488.4 407.1 490.4 405.2 492.4 403.3 C494.4 401.3 496.4 399.4 498.5 397.4 C500.5 395.5 502.5 393.5 504.5 391.5 C506.5 389.5 508.5 387.5 510.5 385.4 C512.6 383.4 514.6 381.4 516.6 379.3 C518.6 377.3 520.6 375.2 522.6 373.2 C524.7 371.1 526.7 369 528.7 366.9 C530.7 364.9 532.7 362.8 534.7 360.7 C536.8 358.6 538.8 356.5 540.8 354.4 C542.8 352.4 544.8 350.3 546.8 348.2 C548.9 346.1 550.9 344 552.9 341.9 C554.9 339.8 556.9 337.7 558.9 335.6 C561 333.5 563 331.4 565 329.2 C567 327.1 569 324.9 571 322.7 C573.1 320.6 575.1 318.4 577.1 316.1 C579.1 313.9 581.1 311.7 583.1 309.4 C585.2 307.2 587.2 304.9 589.2 302.6 C591.2 300.3 593.2 298.1 595.2 295.7 C597.3 293.4 599.3 291.1 601.3 288.8 C603.3 286.5 605.3 284.1 607.3 281.8 C609.3 279.4 611.4 277.1 613.4 274.7 C615.4 272.4 617.4 270 619.4 267.6 C621.4 265.3 623.5 262.9 625.5 260.5 C627.5 258.2 629.5 255.8 631.5 253.4 C633.5 251 635.6 248.7 637.6 246.3 C639.6 243.9 641.6 241.6 643.6 239.2 C645.6 236.8 647.7 234.5 649.7 232.1 C651.7 229.8 653.7 227.4 655.7 225.1 C657.7 222.8 659.8 220.5 661.8 218.1 C663.8 215.8 665.8 213.5 667.8 211.2 C669.8 209 671.9 206.7 673.9 204.4 C675.9 202.2 677.9 200 679.9 197.7 C681.9 195.5 684 193.3 686 191.2 C688 189 690 186.8 692 184.7 C694 182.6 696.1 180.5 698.1 178.5 C700.1 176.4 702.1 174.4 704.1 172.4 C706.1 170.3 708.1 168.4 710.2 166.4 C712.2 164.5 714.2 162.6 716.2 160.7 C718.2 158.9 720.2 157 722.3 155.3 C724.3 153.5 726.3 151.7 728.3 150 C730.3 148.3 732.3 146.7 734.4 145.1 C736.4 143.5 738.4 141.9 740.4 140.4 C742.4 138.9 744.4 137.5 746.5 136.1 C748.5 134.7 750.5 133.4 752.5 132.1 C754.5 130.9 756.5 129.7 758.6 128.6 C760.6 127.4 762.6 126.4 764.6 125.4 C766.6 124.4 768.6 123.5 770.7 122.7 C772.7 121.9 774.7 121.1 776.7 120.4 C778.7 119.7 780.7 119.1 782.8 118.6 C784.8 118.1 786.8 117.6 788.8 117.2 C790.8 116.8 792.8 116.5 794.9 116.3 C796.9 116 798.9 115.8 800.9 115.7 C802.9 115.6 804.9 115.6 806.9 115.6 C809 115.7 811 115.8 813 115.9 C815 116.1 817 116.4 819 116.7 C821.1 117 823.1 117.3 825.1 117.8 C827.1 118.2 829.1 118.7 831.1 119.3 C833.2 119.9 835.2 120.5 837.2 121.2 C839.2 121.9 841.2 122.6 843.2 123.5 C845.3 124.3 847.3 125.2 849.3 126.1 C851.3 127 853.3 128 855.3 129.1 C857.4 130.2 859.4 131.3 861.4 132.5 C863.4 133.7 865.4 134.9 867.4 136.2 C869.5 137.5 871.5 138.9 873.5 140.3 C875.5 141.7 877.5 143.2 879.5 144.7 C881.6 146.2 883.6 147.8 885.6 149.4 C887.6 151.1 889.6 152.7 891.6 154.5 C893.7 156.2 895.7 158 897.7 159.8 C899.7 161.7 901.7 163.6 903.7 165.5 C905.7 167.5 907.8 169.4 909.8 171.5 C911.8 173.5 913.8 175.6 915.8 177.7 C917.8 179.9 919.9 182 921.9 184.3 C923.9 186.5 925.9 188.8 927.9 191.1 C929.9 193.4 932 195.7 934 198.1 C936 200.5 938 202.9 940 205.4 C942 207.9 944.1 210.4 946.1 212.9 C948.1 215.4 950.1 218 952.1 220.5 C954.1 223.1 956.2 225.7 958.2 228.4 C960.2 231 962.2 233.7 964.2 236.3 C966.2 239 968.3 241.7 970.3 244.4 C972.3 247.1 974.3 249.8 976.3 252.5 C978.3 255.3 980.4 258 982.4 260.8 C984.4 263.5 986.4 266.2 988.4 269 C990.4 271.8 992.5 274.5 994.5 277.3 C996.5 280 998.5 282.8 1000.5 285.6 C1002.5 288.3 1004.5 291.1 1006.6 293.8 C1008.6 296.6 1010.6 299.4 1012.6 302.1 C1014.6 304.9 1016.6 307.6 1018.7 310.4 C1020.7 313.1 1022.7 315.8 1024.7 318.6 C1026.7 321.3 1028.7 324 1030.8 326.7 C1032.8 329.4 1034.8 332.1 1036.8 334.8 C1038.8 337.5 1040.8 340.2 1042.9 342.8 C1044.9 345.5 1046.9 348.2 1048.9 350.8 C1050.9 353.4 1052.9 356 1055 358.6 C1057 361.2 1059 363.8 1061 366.3 C1063 368.9 1065 371.4 1067.1 373.9 C1069.1 376.5 1071.1 379 1073.1 381.4 C1075.1 383.9 1077.1 386.3 1079.2 388.7 C1081.2 391.2 1083.2 393.5 1085.2 395.9 C1087.2 398.3 1089.2 400.6 1091.2 402.9 C1093.3 405.2 1095.3 407.5 1097.3 409.7 C1099.3 411.9 1101.3 414.2 1103.3 416.3 C1105.4 418.5 1107.4 420.6 1109.4 422.7 C1111.4 424.8 1113.4 426.9 1115.4 428.9 C1117.5 431 1119.5 433 1121.5 434.9 C1123.5 436.9 1125.5 438.8 1127.5 440.7 C1129.6 442.6 1131.6 444.4 1133.6 446.3 C1135.6 448.1 1137.6 449.9 1139.6 451.6 C1141.7 453.4 1143.7 455.1 1145.7 456.8 C1147.7 458.5 1149.7 460.1 1151.7 461.8 C1153.8 463.4 1155.8 465 1157.8 466.5 C1159.8 468.1 1161.8 469.6 1163.8 471.1 C1165.9 472.6 1167.9 474.1 1169.9 475.6 C1171.9 477 1173.9 478.4 1175.9 479.8 C1178 481.2 1180 482.5 1182 483.9 C1184 485.2 1186 486.5 1188 487.8 C1190 489.1 1192.1 490.3 1194.1 491.5 C1196.1 492.8 1198.1 493.9 1200.1 495.1 C1202.1 496.3 1204.2 497.4 1206.2 498.5 C1208.2 499.7 1210.2 500.8 1212.2 501.8 C1214.2 502.9 1216.3 503.9 1218.3 505 C1220.3 506 1222.3 507 1224.3 508 C1226.3 508.9 1228.4 509.9 1230.4 510.8 C1232.4 511.8 1234.4 512.7 1236.4 513.6 C1238.4 514.4 1240.5 515.3 1242.5 516.2 C1244.5 517 1246.5 517.8 1248.5 518.6 C1250.5 519.4 1252.6 520.2 1254.6 521 C1256.6 521.8 1258.6 522.5 1260.6 523.2 C1262.6 524 1264.7 524.7 1266.7 525.4 C1268.7 526.1 1270.7 526.8 1272.7 527.4 C1274.7 528.1 1276.8 528.7 1278.8 529.3 C1280.8 530 1282.8 530.6 1284.8 531.2 C1286.8 531.8 1288.8 532.3 1290.9 532.9 C1292.9 533.5 1294.9 534 1296.9 534.6 C1298.9 535.1 1300.9 535.6 1303 536.1 C1305 536.6 1307 537.1 1309 537.6 C1311 538.1 1313 538.6 1315.1 539 C1317.1 539.5 1319.1 539.9 1321.1 540.4 C1323.1 540.8 1325.1 541.2 1327.2 541.6 C1329.2 542.1 1331.2 542.5 1333.2 542.9 C1335.2 543.3 1337.2 543.6 1339.3 544 C1341.3 544.4 1343.3 544.8 1345.3 545.1 C1347.3 545.5 1349.3 545.8 1351.4 546.2 C1353.4 546.5 1355.4 546.9 1357.4 547.2 C1359.4 547.5 1361.4 547.8 1363.5 548.2 C1365.5 548.5 1367.5 548.8 1369.5 549.1 C1371.5 549.4 1373.5 549.7 1375.6 550 C1377.6 550.3 1380.6 550.7 1381.6 550.9"/>
<path class="c" stroke="#4472c4" stroke-width="5.2" d="M1072 83.60000000000001H1140.4"/>
<path class="c" stroke="#000" stroke-width="5.2" d="M1072 167.0H1140.4"/>
<path class="c" stroke="#ed7d31" stroke-width="5.2" d="M1072 249.1H1140.4"/>
<text transform="translate(1147.30 99.50) scale(1.0503 1)" font-size="50">PMMA</text>
<text y="182.90" font-size="50"><tspan x="1146.98" textLength="157.06" lengthAdjust="spacingAndGlyphs">Monte</tspan> <tspan x="1317.08" textLength="120.23" lengthAdjust="spacingAndGlyphs">Carlo</tspan></text>
<text y="265.90" font-size="50"><tspan x="1147.91" textLength="177.40" lengthAdjust="spacingAndGlyphs">Gamma</tspan> <tspan x="1342.92" textLength="139.94" lengthAdjust="spacingAndGlyphs">image</tspan></text>
<text><tspan x="252.92" y="95.11" font-size="93.3" textLength="26.10" lengthAdjust="spacingAndGlyphs">(</tspan><tspan x="284.76" y="97.81" font-size="88.7" textLength="39.48" lengthAdjust="spacingAndGlyphs">a</tspan><tspan x="335.88" y="95.11" font-size="93.3" textLength="26.10" lengthAdjust="spacingAndGlyphs">)</tspan></text>
<g class="tk">
<text transform="translate(108.90 33.50) scale(1.0011 1)" font-size="44.3">1.2</text>
<text transform="translate(147.93 125.70) scale(0.9901 1)" font-size="44.3">1</text>
<text transform="translate(108.65 217.90) scale(1.0127 1)" font-size="44.3">0.8</text>
<text transform="translate(108.44 310.20) scale(1.0230 1)" font-size="44.3">0.6</text>
<text transform="translate(108.44 402.70) scale(1.0238 1)" font-size="44.3">0.4</text>
<text transform="translate(108.45 495.00) scale(1.0136 1)" font-size="44.3">0.2</text>
<text transform="translate(147.89 587.10) scale(1.0596 1)" font-size="44.3">0</text>
<text transform="translate(204.36 665.60) scale(1.0000 1)" font-size="52.5">0</text>
<text transform="translate(596.80 665.60) scale(1.0000 1)" font-size="52.5">2</text>
<text transform="translate(988.06 665.60) scale(1.0000 1)" font-size="52.5">4</text>
<text transform="translate(1379.44 665.60) scale(1.0000 1)" font-size="52.5">6</text>
</g>
<text y="713.00" font-size="65"><tspan x="655.55" textLength="178.61" lengthAdjust="spacingAndGlyphs">Depth</tspan> <tspan x="851.13" textLength="128.78" lengthAdjust="spacingAndGlyphs">(cm)</tspan></text>
<text transform="translate(67.30 0) rotate(-90)" y="0" font-size="65"><tspan x="-595.96" textLength="259.16" lengthAdjust="spacingAndGlyphs">Intensity</tspan> <tspan x="-323.49" textLength="140.29" lengthAdjust="spacingAndGlyphs">(arb.</tspan> <tspan x="-167.88" textLength="166.18" lengthAdjust="spacingAndGlyphs">units)</tspan></text>
</g>
<g id="chart-b">
<path class="g" d="M221.1 820.3H1494.0 M221.1 926.3H1494.0 M221.1 1031.3H1494.0 M221.1 1137.2H1494.0 M221.1 1243.3H1494.0 M221.1 1350.0H1494.0 M613.0 818.8V1456.4 M1004.9 818.8V1456.4 M1396.8 818.8V1456.4"/>
<path class="ax" d="M221.1 818.6999999999999V1458.1000000000001 M219.4 1456.4H1494.0"/>
<path class="c" stroke="#ed7d31" stroke-width="5" d="M221.7 1433.7 C222.7 1433.5 225.7 1432.9 227.7 1432.5 C229.8 1432.1 231.8 1431.7 233.8 1431.3 C235.8 1430.9 237.8 1430.5 239.8 1430 C241.8 1429.6 243.8 1429.2 245.9 1428.8 C247.9 1428.4 249.9 1428 251.9 1427.6 C253.9 1427.1 255.9 1426.7 257.9 1426.3 C259.9 1425.9 262 1425.5 264 1425 C266 1424.6 268 1424.2 270 1423.7 C272 1423.3 274 1422.9 276 1422.4 C278.1 1422 280.1 1421.5 282.1 1421.1 C284.1 1420.6 286.1 1420.2 288.1 1419.7 C290.1 1419.2 292.1 1418.8 294.2 1418.3 C296.2 1417.8 298.2 1417.3 300.2 1416.8 C302.2 1416.3 304.2 1415.8 306.2 1415.3 C308.3 1414.8 310.3 1414.3 312.3 1413.8 C314.3 1413.2 316.3 1412.7 318.3 1412.2 C320.3 1411.6 322.3 1411.1 324.4 1410.5 C326.4 1410 328.4 1409.4 330.4 1408.8 C332.4 1408.2 334.4 1407.6 336.4 1407 C338.4 1406.4 340.5 1405.8 342.5 1405.2 C344.5 1404.6 346.5 1404 348.5 1403.3 C350.5 1402.7 352.5 1402 354.5 1401.3 C356.6 1400.7 358.6 1400 360.6 1399.3 C362.6 1398.6 364.6 1397.9 366.6 1397.1 C368.6 1396.4 370.6 1395.7 372.7 1394.9 C374.7 1394.2 376.7 1393.4 378.7 1392.6 C380.7 1391.8 382.7 1391 384.7 1390.2 C386.7 1389.4 388.8 1388.6 390.8 1387.7 C392.8 1386.9 394.8 1386 396.8 1385.2 C398.8 1384.3 400.8 1383.4 402.9 1382.5 C404.9 1381.5 406.9 1380.6 408.9 1379.7 C410.9 1378.7 412.9 1377.7 414.9 1376.8 C416.9 1375.8 419 1374.8 421 1373.7 C423 1372.7 425 1371.7 427 1370.6 C429 1369.5 431 1368.5 433 1367.3 C435.1 1366.2 437.1 1365.1 439.1 1364 C441.1 1362.8 443.1 1361.6 445.1 1360.5 C447.1 1359.3 449.1 1358.1 451.2 1356.8 C453.2 1355.6 455.2 1354.3 457.2 1353 C459.2 1351.8 461.2 1350.4 463.2 1349.1 C465.2 1347.8 467.3 1346.4 469.3 1345 C471.3 1343.6 473.3 1342.2 475.3 1340.7 C477.3 1339.3 479.3 1337.8 481.4 1336.3 C483.4 1334.8 485.4 1333.2 487.4 1331.6 C489.4 1330 491.4 1328.4 493.4 1326.7 C495.4 1325.1 497.5 1323.4 499.5 1321.6 C501.5 1319.9 503.5 1318.1 505.5 1316.3 C507.5 1314.5 509.5 1312.6 511.5 1310.7 C513.6 1308.8 515.6 1306.9 517.6 1304.9 C519.6 1302.9 521.6 1300.8 523.6 1298.7 C525.6 1296.7 527.6 1294.5 529.7 1292.3 C531.7 1290.2 533.7 1287.9 535.7 1285.7 C537.7 1283.4 539.7 1281.1 541.7 1278.7 C543.7 1276.4 545.8 1274 547.8 1271.6 C549.8 1269.1 551.8 1266.6 553.8 1264.1 C555.8 1261.6 557.8 1259 559.8 1256.5 C561.9 1253.9 563.9 1251.2 565.9 1248.6 C567.9 1245.9 569.9 1243.2 571.9 1240.4 C573.9 1237.7 576 1234.9 578 1232.1 C580 1229.3 582 1226.5 584 1223.6 C586 1220.7 588 1217.8 590 1214.9 C592.1 1211.9 594.1 1209 596.1 1206 C598.1 1203 600.1 1199.9 602.1 1196.9 C604.1 1193.8 606.1 1190.8 608.2 1187.7 C610.2 1184.6 612.2 1181.4 614.2 1178.3 C616.2 1175.1 618.2 1172 620.2 1168.8 C622.2 1165.6 624.3 1162.4 626.3 1159.2 C628.3 1156 630.3 1152.8 632.3 1149.5 C634.3 1146.3 636.3 1143 638.3 1139.8 C640.4 1136.5 642.4 1133.2 644.4 1130 C646.4 1126.7 648.4 1123.4 650.4 1120.2 C652.4 1116.9 654.5 1113.6 656.5 1110.3 C658.5 1107 660.5 1103.8 662.5 1100.5 C664.5 1097.2 666.5 1094 668.5 1090.7 C670.6 1087.4 672.6 1084.2 674.6 1080.9 C676.6 1077.7 678.6 1074.5 680.6 1071.3 C682.6 1068 684.6 1064.9 686.7 1061.7 C688.7 1058.5 690.7 1055.3 692.7 1052.2 C694.7 1049.1 696.7 1046 698.7 1042.9 C700.7 1039.8 702.8 1036.7 704.8 1033.7 C706.8 1030.7 708.8 1027.7 710.8 1024.7 C712.8 1021.8 714.8 1018.9 716.8 1016 C718.9 1013.1 720.9 1010.2 722.9 1007.4 C724.9 1004.6 726.9 1001.9 728.9 999.2 C730.9 996.4 733 993.8 735 991.2 C737 988.6 739 986 741 983.5 C743 981 745 978.5 747 976.1 C749.1 973.8 751.1 971.4 753.1 969.2 C755.1 966.9 757.1 964.7 759.1 962.6 C761.1 960.5 763.1 958.5 765.2 956.5 C767.2 954.5 769.2 952.6 771.2 950.8 C773.2 949 775.2 947.3 777.2 945.6 C779.2 944 781.3 942.5 783.3 941 C785.3 939.5 787.3 938.2 789.3 936.9 C791.3 935.6 793.3 934.5 795.3 933.4 C797.4 932.3 799.4 931.4 801.4 930.5 C803.4 929.6 805.4 928.9 807.4 928.2 C809.4 927.5 811.4 927 813.5 926.5 C815.5 926 817.5 925.7 819.5 925.4 C821.5 925.1 823.5 925 825.5 924.9 C827.6 924.8 829.6 924.8 831.6 925 C833.6 925.1 835.6 925.3 837.6 925.6 C839.6 925.9 841.6 926.4 843.7 926.9 C845.7 927.4 847.7 928 849.7 928.7 C851.7 929.4 853.7 930.2 855.7 931.1 C857.7 932 859.8 933 861.8 934.1 C863.8 935.2 865.8 936.4 867.8 937.6 C869.8 938.9 871.8 940.3 873.8 941.7 C875.9 943.1 877.9 944.6 879.9 946.2 C881.9 947.8 883.9 949.5 885.9 951.3 C887.9 953 889.9 954.9 892 956.8 C894 958.7 896 960.6 898 962.7 C900 964.7 902 966.8 904 969 C906.1 971.2 908.1 973.4 910.1 975.7 C912.1 978 914.1 980.3 916.1 982.8 C918.1 985.2 920.1 987.6 922.2 990.2 C924.2 992.7 926.2 995.3 928.2 997.9 C930.2 1000.5 932.2 1003.2 934.2 1005.9 C936.2 1008.6 938.3 1011.4 940.3 1014.2 C942.3 1017 944.3 1019.8 946.3 1022.7 C948.3 1025.6 950.3 1028.5 952.3 1031.5 C954.4 1034.4 956.4 1037.4 958.4 1040.5 C960.4 1043.5 962.4 1046.5 964.4 1049.6 C966.4 1052.7 968.4 1055.8 970.5 1059 C972.5 1062.1 974.5 1065.3 976.5 1068.5 C978.5 1071.6 980.5 1074.8 982.5 1078.1 C984.5 1081.3 986.6 1084.5 988.6 1087.8 C990.6 1091.1 992.6 1094.3 994.6 1097.6 C996.6 1100.9 998.6 1104.2 1000.7 1107.5 C1002.7 1110.8 1004.7 1114.1 1006.7 1117.5 C1008.7 1120.8 1010.7 1124.1 1012.7 1127.4 C1014.7 1130.7 1016.8 1134 1018.8 1137.3 C1020.8 1140.6 1022.8 1143.9 1024.8 1147.2 C1026.8 1150.5 1028.8 1153.7 1030.8 1157 C1032.9 1160.2 1034.9 1163.4 1036.9 1166.6 C1038.9 1169.8 1040.9 1173 1042.9 1176.1 C1044.9 1179.2 1046.9 1182.4 1049 1185.4 C1051 1188.5 1053 1191.6 1055 1194.6 C1057 1197.6 1059 1200.6 1061 1203.6 C1063 1206.5 1065.1 1209.5 1067.1 1212.3 C1069.1 1215.2 1071.1 1218.1 1073.1 1220.9 C1075.1 1223.7 1077.1 1226.5 1079.2 1229.2 C1081.2 1231.9 1083.2 1234.6 1085.2 1237.2 C1087.2 1239.8 1089.2 1242.4 1091.2 1245 C1093.2 1247.5 1095.3 1250.1 1097.3 1252.5 C1099.3 1255 1101.3 1257.4 1103.3 1259.8 C1105.3 1262.2 1107.3 1264.6 1109.3 1266.9 C1111.4 1269.2 1113.4 1271.5 1115.4 1273.7 C1117.4 1276 1119.4 1278.2 1121.4 1280.4 C1123.4 1282.5 1125.4 1284.7 1127.5 1286.8 C1129.5 1288.9 1131.5 1291 1133.5 1293 C1135.5 1295.1 1137.5 1297.1 1139.5 1299.1 C1141.5 1301.1 1143.6 1303 1145.6 1305 C1147.6 1306.9 1149.6 1308.8 1151.6 1310.7 C1153.6 1312.5 1155.6 1314.4 1157.7 1316.2 C1159.7 1318 1161.7 1319.8 1163.7 1321.6 C1165.7 1323.3 1167.7 1325.1 1169.7 1326.8 C1171.7 1328.5 1173.8 1330.2 1175.8 1331.8 C1177.8 1333.5 1179.8 1335.1 1181.8 1336.7 C1183.8 1338.3 1185.8 1339.9 1187.8 1341.5 C1189.9 1343 1191.9 1344.6 1193.9 1346.1 C1195.9 1347.6 1197.9 1349.1 1199.9 1350.5 C1201.9 1352 1203.9 1353.4 1206 1354.8 C1208 1356.2 1210 1357.6 1212 1359 C1214 1360.4 1216 1361.7 1218 1363 C1220 1364.3 1222.1 1365.6 1224.1 1366.9 C1226.1 1368.2 1228.1 1369.4 1230.1 1370.7 C1232.1 1371.9 1234.1 1373.1 1236.1 1374.3 C1238.2 1375.5 1240.2 1376.6 1242.2 1377.8 C1244.2 1378.9 1246.2 1380 1248.2 1381.1 C1250.2 1382.2 1252.3 1383.3 1254.3 1384.4 C1256.3 1385.5 1258.3 1386.5 1260.3 1387.5 C1262.3 1388.5 1264.3 1389.5 1266.3 1390.5 C1268.4 1391.5 1270.4 1392.5 1272.4 1393.4 C1274.4 1394.4 1276.4 1395.3 1278.4 1396.2 C1280.4 1397.1 1282.4 1398 1284.5 1398.9 C1286.5 1399.7 1288.5 1400.6 1290.5 1401.4 C1292.5 1402.3 1294.5 1403.1 1296.5 1403.9 C1298.5 1404.7 1300.6 1405.5 1302.6 1406.2 C1304.6 1407 1306.6 1407.8 1308.6 1408.5 C1310.6 1409.2 1312.6 1409.9 1314.6 1410.6 C1316.7 1411.4 1318.7 1412 1320.7 1412.7 C1322.7 1413.4 1324.7 1414 1326.7 1414.7 C1328.7 1415.3 1330.8 1416 1332.8 1416.6 C1334.8 1417.2 1336.8 1417.8 1338.8 1418.4 C1340.8 1419 1342.8 1419.5 1344.8 1420.1 C1346.9 1420.6 1348.9 1421.2 1350.9 1421.7 C1352.9 1422.3 1354.9 1422.8 1356.9 1423.3 C1358.9 1423.8 1360.9 1424.3 1363 1424.8 C1365 1425.2 1367 1425.7 1369 1426.2 C1371 1426.6 1373 1427.1 1375 1427.5 C1377 1428 1379.1 1428.4 1381.1 1428.8 C1383.1 1429.2 1385.1 1429.6 1387.1 1430 C1389.1 1430.4 1391.1 1430.8 1393.1 1431.1 C1395.2 1431.5 1397.2 1431.9 1399.2 1432.2 C1401.2 1432.6 1403.2 1432.9 1405.2 1433.3 C1407.2 1433.6 1409.2 1433.9 1411.3 1434.2 C1413.3 1434.6 1415.3 1434.9 1417.3 1435.2 C1419.3 1435.5 1421.3 1435.7 1423.3 1436 C1425.4 1436.3 1427.4 1436.6 1429.4 1436.9 C1431.4 1437.1 1433.4 1437.4 1435.4 1437.6 C1437.4 1437.9 1439.4 1438.2 1441.5 1438.4 C1443.5 1438.6 1445.5 1438.9 1447.5 1439.1 C1449.5 1439.3 1451.5 1439.6 1453.5 1439.8 C1455.5 1440 1457.6 1440.2 1459.6 1440.4 C1461.6 1440.6 1463.6 1440.8 1465.6 1441 C1467.6 1441.2 1469.6 1441.4 1471.6 1441.6 C1473.7 1441.8 1475.7 1442 1477.7 1442.2 C1479.7 1442.3 1481.7 1442.5 1483.7 1442.7 C1485.7 1442.9 1487.7 1443 1489.8 1443.2 C1491.8 1443.4 1494.8 1443.6 1495.8 1443.7"/>
<path class="c" stroke="#548235" stroke-width="4.6" d="M415.8 1455.2 L417.6 1454.9 L419.5 1455.5 L421.3 1454.6 L423.2 1455.2 L425 1454.8 L427 1454.2 L429 1454.8 L431 1454 L433 1454.5 L435 1453.9 L437 1453.7 L439 1454 L441 1454.4 L443 1453.1 L445 1453.1 L446.8 1453.1 L448.5 1452.9 L450.2 1451.7 L452 1450.8 L455 1452.4 L456.7 1451.9 L458.3 1453.9 L460 1453.9 L462.1 1453.4 L464.1 1453 L466.2 1453 L468.3 1453.5 L470.2 1451.8 L472.1 1451.6 L473.9 1451 L475.8 1449.8 L477.8 1451.2 L479.7 1451.5 L481.7 1452.6 L483.9 1452.6 L486.1 1453 L488.3 1452.4 L490 1451.7 L491.6 1451.5 L493.3 1450.7 L495.3 1450.7 L497.2 1451.6 L499.2 1451.6 L500.6 1450 L502.1 1449.5 L503.6 1448.5 L505 1448.1 L507.1 1446.6 L509.2 1444.7 L511.2 1447.2 L513.3 1447.4 L514.8 1446.7 L516.2 1446 L517.7 1444 L519.2 1443.3 L521.2 1443.1 L523.3 1444.5 L525 1444.3 L526.6 1443.7 L528.3 1443.9 L530 1442.7 L531.7 1442.3 L533.3 1441.1 L535 1440.1 L536.7 1439.4 L538.3 1439.4 L540 1439 L541.2 1437 L542.5 1436 L543.8 1433.9 L545 1433.6 L546 1432.1 L547.1 1431.1 L548.2 1429.4 L549.2 1427.2 L551.2 1428.7 L553.3 1430.6 L554.5 1428.3 L555.8 1427.6 L557 1425.8 L558.3 1424.4 L559.5 1423.1 L560.8 1422.9 L562 1420.7 L563.3 1419.6 L564.5 1417.7 L565.8 1416.4 L567.2 1414.1 L568.6 1413.5 L570 1412.6 L571.1 1411.1 L572.2 1409.1 L573.3 1407.2 L574.5 1404.7 L575.8 1403.2 L577 1401.5 L578.3 1400.6 L579 1399 L579.7 1396.1 L580.4 1394.5 L581.2 1392.9 L581.9 1391.2 L582.6 1389.9 L583.3 1388.4 L583.9 1386.3 L584.4 1384.2 L585 1383.2 L585.5 1381.4 L586.1 1380.1 L586.6 1379 L587.2 1376.9 L587.7 1375 L588.3 1373.5 L588.7 1371.9 L589.1 1369.3 L589.5 1368.9 L589.8 1367.1 L590.2 1365.6 L590.6 1363.8 L591 1361.5 L591.4 1359.9 L591.8 1357.8 L592.1 1356.9 L592.5 1354.4 L592.9 1352.7 L593.3 1351.3 L593.6 1349.4 L593.9 1347.9 L594.2 1345.7 L594.5 1343.8 L594.8 1342.2 L595.1 1340.4 L595.4 1339 L595.7 1336.7 L596 1336.2 L596.3 1334 L596.6 1331.5 L596.9 1329.9 L597.2 1328.3 L597.5 1326.5 L597.7 1324.4 L597.9 1323.7 L598.2 1322.2 L598.4 1319.6 L598.6 1317.9 L598.8 1315.5 L599.1 1313.8 L599.3 1312.4 L599.5 1310.5 L599.7 1309.6 L599.9 1306.8 L600.2 1304.9 L600.4 1304.5 L600.6 1302.1 L600.8 1299.8 L601.1 1298.6 L601.3 1296.1 L601.5 1295 L601.7 1294 L601.9 1292 L602 1290 L602.2 1287.6 L602.4 1286 L602.6 1284 L602.8 1283.1 L602.9 1281 L603.1 1279.6 L603.3 1277.2 L603.5 1275.3 L603.6 1274.4 L603.8 1272.9 L604 1271 L604.2 1269.2 L604.4 1267.4 L604.5 1265.6 L604.7 1263 L604.9 1261.7 L605.1 1259.7 L605.3 1257.4 L605.4 1255.6 L605.6 1254.2 L605.8 1252.4 L606 1251.3 L606.1 1249.9 L606.3 1247.3 L606.5 1246.3 L606.7 1244.6 L606.9 1242.7 L607 1240.1 L607.2 1238.1 L607.4 1236.3 L607.6 1234.4 L607.8 1232.5 L608 1231.3 L608.2 1229.9 L608.3 1227.9 L608.5 1225.5 L608.7 1223.9 L608.9 1222.3 L609.1 1219.4 L609.2 1218.4 L609.3 1217 L609.5 1215 L609.6 1213.2 L609.7 1211 L609.8 1208.8 L610 1207.9 L610.1 1205.4 L610.2 1204.3 L610.3 1202.8 L610.5 1200.1 L610.6 1198.3 L610.7 1197.4 L610.8 1195.3 L610.9 1192.7 L611 1190.9 L611.1 1189.2 L611.2 1188.6 L611.4 1186.7 L611.5 1184 L611.6 1183.3 L611.7 1181.8 L611.8 1179.6 L611.9 1177.4 L612 1175.9 L612.1 1173.6 L612.2 1171.6 L612.3 1171.3 L612.4 1169.1 L612.5 1167.2 L612.6 1166.1 L612.8 1163.6 L612.9 1162.5 L613 1160.7 L613.1 1158 L613.2 1156.4 L613.3 1154.7 L613.4 1152.9 L613.6 1151.7 L613.7 1149.4 L613.9 1147.9 L614 1145.8 L614.1 1145.2 L614.3 1142.6 L614.4 1141 L614.6 1139.5 L614.7 1138.2 L614.9 1135.8 L615 1134.8 L615.1 1132.4 L615.3 1130.7 L615.4 1129 L615.6 1126.5 L615.7 1125.4 L615.9 1123.2 L616 1121.2 L616.1 1120.7 L616.3 1118 L616.4 1116.7 L616.6 1115.4 L616.7 1113.4 L616.8 1111.1 L616.9 1109.5 L617 1107.7 L617.2 1106.1 L617.3 1103.2 L617.4 1102 L617.5 1099.6 L617.7 1097.9 L617.8 1096.9 L618 1094.8 L618.2 1093.1 L618.3 1091.7 L618.5 1090.2 L618.7 1087.8 L618.8 1086.3 L619 1084.4 L619.2 1082.6 L619.3 1081.2 L619.5 1079.1 L619.7 1077.5 L619.8 1075.6 L620 1074.6 L620.2 1072.5 L620.3 1071 L620.5 1069.4 L620.7 1066.6 L620.8 1065.3 L621 1064.2 L621.2 1062.3 L621.3 1059.5 L621.5 1057.7 L621.7 1056.5 L621.9 1054.2 L622 1052.7 L622.2 1050.6 L622.4 1049.8 L622.6 1048.2 L622.8 1046.6 L622.9 1043.8 L623.1 1042.9 L623.3 1041 L623.5 1038.5 L623.6 1037.8 L623.8 1036.2 L624 1033.3 L624.2 1032.7 L624.4 1030.1 L624.5 1028.5 L624.7 1027.5 L624.9 1025.5 L625.1 1022.7 L625.4 1021.3 L625.6 1019.7 L625.8 1017.6 L626.1 1015.6 L626.3 1014 L626.5 1012.8 L626.8 1010 L627 1009 L627.3 1007.1 L627.5 1004.6 L627.7 1003.3 L628 1002 L628.2 1000 L628.5 997.7 L628.8 997.4 L629.2 995.4 L629.5 994 L629.8 991.1 L630.1 989.6 L630.5 987.6 L630.8 987.1 L631.1 984.6 L631.4 982.8 L631.8 981.5 L632.1 980.6 L632.4 978.8 L632.9 976.3 L633.4 974.5 L633.9 973.9 L634.4 971.8 L634.8 970.3 L635.3 967.7 L635.8 966 L636.3 965.3 L636.8 963.2 L637.3 961.1 L638.1 960.7 L638.9 958.6 L639.6 957.2 L640.4 954.4 L641.2 953.9 L642 951 L643.3 950.9 L644.5 949 L645.8 947.4 L647 946.4 L648.3 945.6 L649.7 943.5 L651.2 942.1 L652.6 941.5 L654 939.9 L655.4 938.5 L656.9 937.4 L658.3 936 L660 935.6 L661.6 935 L663.3 934.3 L665 934.3 L666.6 932.9 L668.3 932.5 L670 931.4 L671.6 931.1 L673.3 930 L675 929.7 L676.7 928.8 L678.3 929.2 L680 928.4 L682.1 927.5 L684.1 927.6 L686.2 928 L688.3 926.4 L690.2 927.2 L692 926.3 L693.9 926.1 L695.8 926.3 L697.7 926.4 L699.5 927.3 L701.4 928.3 L703.3 929.4 L705.2 928.5 L707.2 929.4 L709.1 929.3 L711.1 929.2 L713 929 L715 929 L716.9 928.5 L718.8 928.6 L720.7 928.6 L722.6 929.6 L724.5 928.8 L726.4 928.7 L728.3 928.6 L730 930.2 L731.7 930.8 L733.3 931 L735 930.9 L736.7 931.3 L738.6 931.5 L740.5 931.8 L742.3 931.5 L744.2 932 L746.1 931.8 L748 933 L749.8 933.1 L751.7 932.6 L753.5 932.2 L755.4 933.4 L757.2 932.5 L759 932.6 L760.9 932.2 L762.7 932.8 L764.5 933 L766.3 933.1 L768.2 932.8 L770 933.3 L771.9 932.7 L773.8 933.2 L775.7 933.1 L777.6 933.7 L779.5 933.3 L781.4 933.4 L783.3 933.9 L785 934.2 L786.6 935.2 L788.3 935.5 L790 936.2 L791.6 936.5 L793.3 937 L795.3 937.1 L797.3 936.2 L799.3 935.9 L801.3 936.7 L803.3 935.3 L805 936.5 L806.7 936.7 L808.3 936.1 L810 937.7 L811.7 938.1 L813.6 937.6 L815.5 937.6 L817.4 937.6 L819.3 936.5 L821.2 937 L823.1 936.8 L825 937.2 L826.9 937.4 L828.7 937.7 L830.6 937.6 L832.4 938.3 L834.3 938.3 L836.1 938.5 L838 938.1 L839.7 937.9 L841.4 938.1 L843.1 938.6 L844.9 938.3 L846.6 939.5 L848.3 939.2 L850 939.4 L851.9 939.4 L853.7 939.5 L855.6 939.2 L857.4 938.5 L859.3 939.6 L861.1 939.6 L863 939.2 L864.8 939.3 L866.7 939.4 L868.6 938.7 L870.5 939.8 L872.4 939.2 L874.3 939 L876.2 939.4 L878.1 940.2 L880 939.6 L882 940.1 L883.9 940.1 L885.9 939.1 L887.8 938.7 L889.8 938.6 L891.7 938.6 L893.6 938.9 L895.5 939 L897.4 939.2 L899.3 938.6 L901.2 939 L903.1 939.4 L905 940.4 L906.9 939.5 L908.8 939.6 L910.6 938.5 L912.5 938.3 L914.4 938.4 L916.2 938.8 L918.1 938.5 L920 938.3 L922.1 937.4 L924.1 937.4 L926.2 937 L928.3 936.6 L930.5 936.1 L932.8 937.3 L935 936.2 L936.7 937.9 L938.3 938.4 L940 937.5 L941.6 938.6 L943.3 939.7 L945 940.3 L946.6 939.9 L948.3 940.1 L950 940.4 L951.7 940.6 L953.4 938.7 L955 938.4 L956.7 937 L958.7 937.9 L960.7 938.9 L962.7 938 L964.7 939.3 L966.7 939.2 L968.7 940.1 L970.7 940.1 L972.7 939.8 L974.7 941.1 L976.7 940.8 L978.4 940.7 L980 941.2 L981.7 942.5 L983.4 943 L985 943.3 L986.7 943.7 L988.4 943.4 L990 942.8 L991.7 943 L993.4 942.9 L995 945.1 L996.7 946.3 L998.4 946.1 L1000 948.1 L1001.6 948.7 L1003.3 949.8 L1005 950.1 L1006.6 951.5 L1008.3 952.8 L1010 954.9 L1011.7 955.4 L1013.4 956 L1015 957.2 L1016.7 958 L1018 959.1 L1019.3 960.7 L1020.7 963.3 L1022 964 L1023.3 966.5 L1024.6 966.8 L1026 968.1 L1027.3 969.8 L1028.7 970.7 L1030 972.3 L1031 974.7 L1032 976.1 L1033 977.5 L1034 978.7 L1035 980.6 L1035.8 982.3 L1036.7 983.4 L1037.5 985.3 L1038.3 986 L1039.2 988.7 L1040 989.9 L1040.6 992.1 L1041.2 993.6 L1041.8 994.7 L1042.4 996 L1043 999 L1043.6 999.5 L1044.2 1001.7 L1044.7 1003.1 L1045.1 1004.7 L1045.6 1007 L1046.1 1009 L1046.6 1009.6 L1047 1011.9 L1047.5 1013 L1047.8 1015.1 L1048.1 1016.5 L1048.4 1017.8 L1048.8 1019.5 L1049.1 1021.2 L1049.4 1024 L1049.7 1025 L1050 1026.3 L1050.3 1029.2 L1050.6 1031.2 L1050.9 1032.2 L1051.2 1033.7 L1051.6 1035.6 L1051.9 1037.3 L1052.2 1039.6 L1052.5 1041.1 L1052.7 1043.2 L1053 1045 L1053.2 1047.3 L1053.5 1049.7 L1053.7 1051.3 L1054 1052.6 L1054.2 1054.5 L1054.5 1056.5 L1054.7 1058.1 L1054.9 1059.9 L1055.1 1061.3 L1055.3 1063.5 L1055.5 1066.4 L1055.7 1066.9 L1055.9 1069.3 L1056.1 1071.4 L1056.3 1073.6 L1056.5 1074.4 L1056.7 1076.4 L1056.9 1078.2 L1057.1 1080.2 L1057.2 1082.2 L1057.4 1084.8 L1057.6 1086.4 L1057.8 1088.3 L1057.9 1088.9 L1058.1 1090.8 L1058.3 1093.6 L1058.4 1095.7 L1058.5 1096.8 L1058.6 1098.7 L1058.7 1099.6 L1058.8 1102 L1058.9 1104.5 L1059 1106.1 L1059.1 1108 L1059.2 1109.9 L1059.3 1110.6 L1059.4 1112.1 L1059.5 1114 L1059.6 1116.3 L1059.7 1118.3 L1059.8 1120.4 L1059.9 1121.9 L1060 1123.5 L1060.1 1125.5 L1060.3 1126.8 L1060.4 1128.7 L1060.5 1129.6 L1060.7 1132.5 L1060.8 1133.4 L1060.9 1136.2 L1061.1 1137.6 L1061.2 1138.8 L1061.3 1140.3 L1061.4 1142.3 L1061.6 1144.6 L1061.7 1146.5 L1061.8 1147.3 L1062 1149 L1062.1 1151.5 L1062.2 1153.3 L1062.4 1154.8 L1062.5 1156.3 L1062.6 1158.6 L1062.8 1159.5 L1062.9 1161.7 L1063 1163.7 L1063.2 1166.2 L1063.3 1167.4 L1063.4 1169.5 L1063.6 1170.7 L1063.7 1172.1 L1063.8 1173.8 L1063.9 1176.7 L1064.1 1178 L1064.2 1179.2 L1064.3 1180.5 L1064.5 1183 L1064.6 1185 L1064.7 1186.4 L1064.9 1187.9 L1065 1190.3 L1065.1 1192.4 L1065.3 1193.1 L1065.4 1194.6 L1065.5 1196.8 L1065.7 1198.6 L1065.8 1200.8 L1065.9 1201.8 L1066.1 1204.5 L1066.2 1206.1 L1066.3 1207.5 L1066.4 1208.8 L1066.6 1211.7 L1066.7 1212.5 L1066.8 1215 L1067 1215.9 L1067.1 1217.6 L1067.2 1220.2 L1067.4 1221.2 L1067.5 1224 L1067.7 1225.1 L1067.8 1226.4 L1068 1228.2 L1068.2 1230.3 L1068.3 1232.4 L1068.5 1234.7 L1068.7 1235.2 L1068.8 1237.4 L1069 1238.9 L1069.2 1241.8 L1069.3 1242.3 L1069.5 1244 L1069.7 1245.8 L1069.8 1248.1 L1070 1250.6 L1070.2 1252.3 L1070.4 1253.9 L1070.6 1256.1 L1070.8 1257.7 L1071 1258.6 L1071.2 1260.1 L1071.3 1263 L1071.5 1264.5 L1071.7 1265.2 L1071.9 1267.9 L1072.1 1269.3 L1072.3 1271 L1072.5 1272.7 L1072.7 1274.2 L1072.9 1275.6 L1073.1 1277.7 L1073.3 1279.5 L1073.5 1282.1 L1073.7 1282.6 L1073.8 1285.5 L1074 1286.1 L1074.2 1288 L1074.4 1290.4 L1074.6 1292.1 L1074.8 1293.2 L1075 1294.3 L1075.2 1296.7 L1075.4 1298.3 L1075.6 1300.9 L1075.8 1301.6 L1076 1303.6 L1076.2 1306.2 L1076.4 1306.7 L1076.7 1309 L1076.9 1311.4 L1077.1 1313.1 L1077.3 1313.8 L1077.5 1315.5 L1077.7 1317.3 L1077.9 1320.4 L1078.1 1321.2 L1078.3 1323.7 L1078.6 1325.7 L1078.8 1326.7 L1079.1 1328.4 L1079.3 1331.2 L1079.6 1332.5 L1079.9 1333.7 L1080.1 1336.2 L1080.4 1337.4 L1080.7 1339.2 L1080.9 1340.6 L1081.2 1343.5 L1081.4 1345.5 L1081.7 1346.9 L1082 1349.2 L1082.4 1349.6 L1082.7 1351.7 L1083.1 1353.9 L1083.4 1356.4 L1083.8 1358.2 L1084.1 1359.1 L1084.4 1360.7 L1084.8 1362.8 L1085.1 1364.7 L1085.5 1367.1 L1085.8 1367.8 L1086.3 1370.4 L1086.7 1372 L1087.2 1373.8 L1087.7 1375.4 L1088.1 1376.8 L1088.6 1378 L1089.1 1379.7 L1089.5 1381.4 L1090 1383.7 L1090.6 1384.3 L1091.1 1386.2 L1091.7 1388.7 L1092.2 1389.6 L1092.8 1391 L1093.3 1392.6 L1093.9 1395 L1094.4 1396.4 L1095 1399 L1095.7 1400.5 L1096.5 1402.4 L1097.2 1402.9 L1098 1404.3 L1098.7 1406 L1099.5 1408.3 L1100.2 1410.3 L1101 1411.6 L1101.7 1412.9 L1102.8 1414.6 L1103.9 1416.3 L1105 1417.8 L1106.1 1419.3 L1107.2 1420.8 L1108.3 1421.9 L1109.6 1422.3 L1111 1424.5 L1112.3 1424.9 L1113.7 1426.4 L1115 1427.3 L1117.1 1428.3 L1119.2 1427.8 L1120.8 1429.6 L1122.5 1431.3 L1124.6 1431.6 L1126.7 1433.1 L1128 1433.9 L1129.2 1434.7 L1130.5 1436.1 L1131.7 1438.2 L1133.4 1438.3 L1135 1438.8 L1136.7 1440.5 L1138.3 1441.1 L1140 1442.4 L1141.7 1439.4 L1143.3 1438.3 L1145 1439.2 L1146.7 1439.7 L1148.3 1439.4 L1150 1437.6 L1151.1 1439.7 L1152.2 1441.1 L1153.3 1442.8 L1154.4 1445.4 L1155.6 1446.2 L1156.7 1448.1 L1158.9 1447.7 L1161.1 1448.8 L1163.3 1448.6 L1165 1448.6 L1166.7 1449.6 L1168.3 1450.1 L1170 1449.1 L1171.7 1450.1 L1173.8 1450.4 L1175.8 1450 L1177.9 1450.4 L1180 1450.3 L1183.3 1449.6 L1185 1451.3 L1186.7 1453.4 L1189.2 1453.1 L1191.7 1452.1 L1193.4 1451.2 L1195 1451.1 L1196.7 1451.1 L1198.1 1451.5 L1199.4 1452.8 L1200.8 1453.8 L1202.8 1453.8 L1204.7 1452.6 L1206.7 1451 L1208.8 1451.1 L1210.8 1451.5 L1212.9 1451.8 L1215 1451.9 L1216.7 1451.9 L1218.3 1452.9 L1220 1454.5 L1221.7 1453.5 L1223.3 1452.7 L1225 1452.2 L1227.5 1453.2 L1230 1452.2 L1231.7 1453.2 L1233.3 1453.4 L1235 1454.1 L1236.9 1455.3 L1238.9 1456 L1240.8 1455.6 L1242.8 1455.2 L1244.7 1455.8 L1246.7 1454.9 L1248.8 1454.3 L1250.8 1454.7"/>
<path class="c" stroke="#0070c0" stroke-width="5.1" d="M240 1386.7 C240.8 1384.7 244.2 1374.9 245.8 1371.7 C247.4 1368.5 250 1362.6 251.7 1362.5 C253.4 1362.4 256.5 1368.8 258.3 1370.8 C260.1 1372.8 263.4 1376.2 265 1377.5 C266.6 1378.8 268.6 1381.7 270 1380.8 C271.4 1379.9 274.4 1373 275.8 1370.8 C277.2 1368.6 279.6 1364.7 280.8 1364.2 C282 1363.7 283.9 1364.8 285 1366.7 C286.1 1368.6 288.3 1376.4 289.2 1378.3 C290.1 1380.2 290.9 1380.6 291.7 1380.8 C292.5 1381 294.1 1378.9 295 1380 C295.9 1381.1 297.5 1387.9 298.3 1389.2 C299.1 1390.5 300 1390.9 300.8 1390 C301.6 1389.1 303.3 1385.6 304.2 1382.5 C305.1 1379.4 306.6 1370.4 307.5 1366.7 C308.4 1363 309.9 1356.9 310.8 1355 C311.7 1353.1 313.4 1352.1 314.2 1352.5 C315 1352.9 316 1356 316.7 1358.3 C317.4 1360.6 318.4 1368.3 319.2 1370 C320 1371.7 321.6 1371.7 322.5 1370.8 C323.4 1369.9 325 1364.6 325.8 1363.3 C326.6 1362 327.6 1359.7 328.3 1361.3 C329 1362.9 330.2 1371.2 330.8 1375 C331.4 1378.8 332 1387 332.5 1390 C333 1393 334 1397.3 334.7 1397.5 C335.4 1397.7 336.8 1394.7 337.5 1391.7 C338.2 1388.7 339.2 1378.9 340 1375 C340.8 1371.1 342.3 1364.5 343.3 1362.5 C344.3 1360.5 346.4 1360 347.5 1360 C348.6 1360 350.5 1360.9 351.7 1362.5 C352.9 1364.1 355.4 1369.7 356.7 1371.7 C358 1373.7 360.4 1377 361.7 1377.5 C363 1378 365.6 1377.2 366.7 1375.8 C367.8 1374.4 369.1 1368.9 370 1366.7 C370.9 1364.5 372.5 1359.4 373.3 1359.2 C374.1 1359 375 1363.7 375.8 1365 C376.6 1366.3 378.3 1369.6 379.2 1369.2 C380.1 1368.8 381.6 1363.8 382.5 1361.7 C383.4 1359.6 385 1354.5 385.8 1353.3 C386.6 1352.1 387.5 1351.6 388.3 1352.5 C389.1 1353.4 390.8 1357.2 391.7 1360 C392.6 1362.8 394.1 1370.5 395 1373.3 C395.9 1376.1 397.4 1379.9 398.3 1380.8 C399.2 1381.7 400.8 1381.7 401.7 1380 C402.6 1378.3 404 1371.9 405 1368.3 C406 1364.7 408.2 1356 409.2 1353.3 C410.2 1350.6 411.5 1348.8 412.5 1348.3 C413.5 1347.8 415.7 1349.7 416.7 1349.2 C417.7 1348.7 419.1 1345 420 1344.2 C420.9 1343.4 422.3 1342.8 423.3 1343.3 C424.3 1343.8 426.4 1347 427.5 1348.3 C428.6 1349.6 430.6 1353.3 431.7 1353.3 C432.8 1353.3 434.8 1348.3 435.8 1348.3 C436.8 1348.3 438.2 1351.6 439.2 1353.3 C440.2 1355 442.2 1359.5 443.3 1360.8 C444.4 1362.1 446.4 1363.4 447.5 1363.3 C448.6 1363.2 450.7 1363.3 451.7 1360 C452.7 1356.7 454.1 1343.5 455 1338.5 C455.9 1333.5 457.4 1325.5 458.3 1322.5 C459.2 1319.5 460.9 1315.9 461.7 1315.8 C462.5 1315.7 463.7 1319.9 464.5 1322 C465.3 1324.1 466.7 1330.2 467.5 1331.7 C468.3 1333.2 469.9 1334.4 470.8 1333.3 C471.7 1332.2 473.3 1325.5 474.2 1323.3 C475.1 1321.1 476.6 1317.7 477.5 1316.7 C478.4 1315.7 479.7 1315.3 480.8 1315.8 C481.9 1316.3 484.6 1321.1 485.8 1320.8 C487 1320.5 488.8 1315 490 1313.3 C491.2 1311.6 493.7 1309.4 495 1308.3 C496.3 1307.2 498.8 1305 500 1305 C501.2 1305 503.1 1307.2 504.2 1308.3 C505.3 1309.4 507.3 1312.4 508.3 1313.3 C509.3 1314.2 510.7 1315.3 511.7 1315 C512.7 1314.7 514.8 1312.8 515.8 1310.8 C516.8 1308.8 518.3 1303.2 519.2 1300 C520.1 1296.8 521.7 1288.8 522.5 1286.7 C523.3 1284.6 524.3 1283.8 525 1284.2 C525.7 1284.6 526.8 1288.7 527.5 1290 C528.2 1291.3 529.1 1294 530 1294.2 C530.9 1294.4 533.1 1292.1 534.2 1291.7 C535.3 1291.3 537.3 1291.1 538.3 1291.3 C539.3 1291.5 540.7 1292.7 541.7 1293.3 C542.7 1293.9 544.7 1295.8 545.8 1295.8 C546.9 1295.8 549 1293.8 550 1293.3 C551 1292.8 552.4 1291.1 553.3 1291.7 C554.2 1292.3 555.8 1296.4 556.7 1297.5 C557.6 1298.6 559.1 1300.3 560 1300 C560.9 1299.7 562.2 1296.8 563.3 1295 C564.4 1293.2 567 1288.6 568.3 1286.7 C569.6 1284.8 572 1282.6 573.3 1280.8 C574.6 1279 577 1275.8 578.3 1273.3 C579.6 1270.8 582 1264 583.3 1261.7 C584.6 1259.4 587 1258.5 588.3 1255.8 C589.6 1253.1 592.1 1245 593.3 1241.7 C594.5 1238.4 596.3 1232.8 597.5 1230.8 C598.7 1228.8 601.5 1228.1 602.5 1226.7 C603.5 1225.3 604.1 1223.6 604.7 1220 C605.3 1216.4 606 1205.3 606.7 1200 C607.4 1194.7 609.1 1184.9 610 1180 C610.9 1175.1 612.3 1166.6 613.3 1163.3 C614.3 1160 616.3 1156.7 617.5 1155 C618.7 1153.3 621.4 1152.8 622.5 1150.8 C623.6 1148.8 625 1143.2 625.8 1140 C626.6 1136.8 627.6 1131.5 628.3 1126.7 C629 1121.9 630.1 1109.7 630.8 1104 C631.5 1098.3 632.5 1089.5 633.3 1084 C634.1 1078.5 636 1067 637 1063 C638 1059 639.7 1054.9 640.5 1053.7 C641.3 1052.5 642.3 1052.3 643 1053.7 C643.7 1055.1 644.9 1061.7 645.5 1064 C646.1 1066.3 647.1 1071.5 647.8 1070.8 C648.5 1070.1 649.8 1061.9 650.5 1059 C651.2 1056.1 652.1 1049.9 653 1049.2 C653.9 1048.5 656 1053.8 657 1053.8 C658 1053.8 659.7 1051.6 660.5 1049.5 C661.3 1047.4 662.3 1043.1 663 1038 C663.7 1032.9 664.8 1016.4 665.5 1011 C666.2 1005.6 667.2 999.6 668 997.5 C668.8 995.4 670.5 994.1 671.3 995 C672.1 995.9 673.1 1001.1 673.8 1004 C674.5 1006.9 675.7 1014.9 676.3 1016.5 C676.9 1018.1 677.8 1017.3 678.5 1016 C679.2 1014.7 680.2 1008.5 681.2 1007 C682.2 1005.5 684.8 1006.5 685.8 1004.5 C686.8 1002.5 687.8 995.7 688.5 991.7 C689.2 987.7 690.2 975.5 690.8 974.2 C691.4 972.9 692.6 978.7 693.3 981.7 C694 984.7 695.1 995.6 695.8 996.7 C696.5 997.8 697.6 993.3 698.3 990 C699 986.7 700.4 975 701.3 971.7 C702.2 968.4 703.9 964.6 704.7 965 C705.5 965.4 706.7 971.6 707.5 975 C708.3 978.4 709.8 990.6 710.5 990.8 C711.2 991 712.4 982.1 713 976.7 C713.6 971.3 714.5 955 715 950 C715.5 945 716.4 939.4 717 939.2 C717.6 939 718.6 946 719.2 948.3 C719.8 950.6 720.9 956 721.7 956.7 C722.5 957.4 724 954.6 725 953.3 C726 952 728.1 947.9 729.2 946.7 C730.3 945.5 732.2 944.5 733.3 944.2 C734.4 943.9 736.4 945.2 737.5 944.2 C738.6 943.2 740.7 939.5 741.7 936.7 C742.7 933.9 744.2 926.6 745 923.3 C745.8 920 746.8 913.8 747.5 911.7 C748.2 909.6 749.3 907.4 750 907.5 C750.7 907.6 751.7 911.5 752.5 912.5 C753.3 913.5 754.8 915.6 755.8 915 C756.8 914.4 758.9 910.5 760 908.3 C761.1 906.1 763.3 901.6 764.2 898.3 C765.1 895 766 886.7 766.7 883.3 C767.4 879.9 768.7 874 769.2 872.5 C769.7 871 770.3 870.9 770.8 871.7 C771.3 872.5 772.7 876.9 773.3 878.3 C773.9 879.7 774.3 881.8 775 882.5 C775.7 883.2 777.4 882.9 778.3 883.3 C779.2 883.7 780.8 885 781.7 885.8 C782.6 886.6 784.1 888.9 785 889.2 C785.9 889.5 787.5 886.6 788.3 888 C789.1 889.4 790.1 896.2 790.8 900 C791.5 903.8 792.7 914.6 793.3 916.7 C793.9 918.8 794.4 918.5 795 915.8 C795.6 913.1 796.8 900.7 797.5 896.7 C798.2 892.7 799.1 887 800 885.8 C800.9 884.6 803 887.3 804.2 888 C805.4 888.7 808.2 888.1 809.2 890.8 C810.2 893.5 811 902.6 811.7 908.3 C812.4 914 813.5 926.6 814.2 933.3 C814.9 940 816.1 953.5 816.7 958.3 C817.3 963.1 818.2 969 818.7 969.2 C819.2 969.4 820.2 963.8 820.8 960 C821.4 956.2 822.5 944.4 823.3 940.8 C824.1 937.2 825.9 933.8 826.7 933.3 C827.5 932.8 828.5 934.5 829.2 936.7 C829.9 938.9 831.1 947.7 831.7 950 C832.3 952.3 833.2 955.1 833.7 954.2 C834.2 953.3 835.2 947.1 835.8 943.3 C836.4 939.5 837.6 927.3 838.3 925.8 C839 924.3 840.1 928.7 840.8 931.7 C841.5 934.7 842.6 946.8 843.3 948.3 C844 949.8 845 945.5 845.8 943.3 C846.6 941.1 848.3 932.9 849.2 931.7 C850.1 930.5 851.7 933.1 852.5 934.2 C853.3 935.3 854.6 938.9 855.5 940 C856.4 941.1 858.2 943.2 859.2 942.5 C860.2 941.8 862.2 937.3 863.3 935 C864.4 932.7 866.5 926.7 867.5 925 C868.5 923.3 869.9 922.2 870.8 922.5 C871.7 922.8 873.3 925.2 874.2 927.5 C875.1 929.8 876.6 936.6 877.5 940 C878.4 943.4 880.1 951.1 880.8 953.3 C881.5 955.5 882.3 957.1 883 956.7 C883.7 956.3 884.9 951.9 885.8 950 C886.7 948.1 889 943.5 890 942.5 C891 941.5 892.3 941.5 893.3 942.5 C894.3 943.5 896.4 947.9 897.5 950 C898.6 952.1 900.6 956.1 901.7 958.3 C902.8 960.5 904.8 965.2 905.8 966.7 C906.8 968.2 908.3 969.2 909.2 969.2 C910.1 969.2 911.7 967.8 912.5 966.7 C913.3 965.6 914.4 961.7 915 960.8 C915.6 959.9 916.1 958.8 916.7 960 C917.3 961.2 918.5 967.6 919.2 970 C919.9 972.4 920.8 977.1 921.7 978.3 C922.6 979.5 924.6 979.2 925.8 979.2 C927 979.2 929.7 977.6 930.8 978 C931.9 978.4 933.5 981.7 934.2 982.5 C934.9 983.3 935.1 984.5 935.8 984.2 C936.5 983.9 938.4 980.9 939.2 980 C940 979.1 940.8 977.3 941.7 977.5 C942.6 977.7 944.9 982 945.8 981.7 C946.7 981.4 947.6 977.3 948.3 975 C949 972.7 950 965.9 950.8 964.2 C951.6 962.5 953.3 963.5 954.2 962.5 C955.1 961.5 956.7 957.9 957.5 956.7 C958.3 955.5 959.3 952.4 960 953.3 C960.7 954.2 961.8 959.6 962.5 963.3 C963.2 967 964.3 979 965 980.8 C965.7 982.6 966.8 978.5 967.5 976.7 C968.2 974.9 969.3 968 970 967.5 C970.7 967 971.8 971 972.5 973.3 C973.2 975.6 974.3 984.2 975 985 C975.7 985.8 976.8 981.2 977.5 979.2 C978.2 977.2 979.3 970.6 980 970 C980.7 969.4 981.8 972.6 982.5 975 C983.2 977.4 984.4 982.7 985 988.3 C985.6 993.9 986.3 1009.6 986.7 1016.7 C987.1 1023.8 987.9 1035.6 988.3 1041.7 C988.7 1047.8 989.5 1060.3 990 1062.5 C990.5 1064.7 991.3 1061.5 991.7 1058.3 C992.1 1055.1 992.8 1042.7 993.3 1038.3 C993.8 1033.9 995 1027.5 995.8 1025 C996.6 1022.5 998.3 1019.9 999.2 1019.2 C1000.1 1018.5 1001.5 1018.7 1002.5 1020 C1003.5 1021.3 1005.6 1026.8 1006.7 1029.2 C1007.8 1031.6 1009.5 1035.8 1010.8 1038.3 C1012.1 1040.8 1015.2 1045.6 1016.7 1048.3 C1018.2 1051 1020.4 1055.2 1021.7 1058.3 C1023 1061.4 1025.5 1068.4 1026.7 1071.7 C1027.9 1075 1029.8 1081.1 1030.8 1083.3 C1031.8 1085.5 1033.3 1088.2 1034.2 1088.3 C1035.1 1088.4 1036.7 1084.6 1037.5 1084.2 C1038.3 1083.8 1039.4 1084.5 1040 1085.5 C1040.6 1086.5 1041.4 1089.7 1042 1092 C1042.6 1094.3 1043.4 1099.4 1044.2 1103 C1045 1106.6 1046.9 1116.8 1048.3 1119.2 C1049.7 1121.6 1053.1 1120.3 1055 1120.8 C1056.9 1121.3 1061.2 1121.6 1062.5 1123.3 C1063.8 1125 1064.2 1129.3 1065 1133.3 C1065.8 1137.3 1067.3 1148.2 1068.3 1153.3 C1069.3 1158.4 1071.2 1169.4 1072.5 1171.7 C1073.8 1174 1077.1 1170.1 1078.3 1170.8 C1079.5 1171.5 1080.6 1173.2 1081.7 1176.7 C1082.8 1180.2 1085.4 1190.9 1086.7 1196.7 C1088 1202.5 1090.4 1214.6 1091.7 1220 C1093 1225.4 1095.4 1232.6 1096.7 1237.5 C1098 1242.4 1100.4 1250.9 1101.7 1256.7 C1103 1262.5 1105.5 1275.4 1106.7 1281 C1107.9 1286.6 1109.9 1296.1 1110.8 1299 C1111.7 1301.9 1112.5 1302.8 1113.3 1303 C1114.1 1303.2 1115.9 1298.8 1116.7 1300.2 C1117.5 1301.6 1118.5 1309.6 1119.2 1313.3 C1119.9 1317 1120.7 1326.1 1121.7 1328.3 C1122.7 1330.5 1125.6 1328.7 1126.7 1330 C1127.8 1331.3 1129.1 1334.5 1130 1338.3 C1130.9 1342.1 1132.5 1353.2 1133.3 1358.3 C1134.1 1363.4 1135.2 1373.5 1135.8 1376.7 C1136.4 1379.9 1136.9 1382.5 1137.5 1382.5 C1138.1 1382.5 1139.2 1379.5 1140 1376.7 C1140.8 1373.9 1142.4 1365 1143.3 1361.7 C1144.2 1358.4 1145.9 1351.9 1146.7 1351.7 C1147.5 1351.5 1148.6 1357.9 1149.2 1360 C1149.8 1362.1 1150.6 1367.5 1151.3 1367.5 C1152 1367.5 1153.5 1361.4 1154.2 1360 C1154.9 1358.6 1156 1356.3 1156.7 1356.7 C1157.4 1357.1 1158.5 1361.8 1159.2 1363.3 C1159.9 1364.8 1161 1368.5 1161.7 1368.3 C1162.4 1368.1 1163.5 1363 1164.2 1361.7 C1164.9 1360.4 1165.9 1358.1 1166.7 1358.3 C1167.5 1358.5 1169.2 1362.3 1170 1363.3 C1170.8 1364.3 1171.7 1366.2 1172.5 1365.8 C1173.3 1365.4 1175 1363.4 1175.8 1360 C1176.6 1356.6 1177.7 1344.9 1178.3 1340 C1178.9 1335.1 1179.4 1326 1180 1323.3 C1180.6 1320.6 1181.8 1319.8 1182.5 1320 C1183.2 1320.2 1184.4 1321.4 1185 1325 C1185.6 1328.6 1186.3 1338.3 1186.7 1346.7 C1187.1 1355.1 1187.9 1379.8 1188.3 1388.3 C1188.7 1396.8 1189.5 1409.7 1190 1410.8 C1190.5 1411.9 1191.3 1407.5 1191.7 1396.7 C1192.1 1385.9 1192.9 1346.7 1193.3 1330 C1193.7 1313.3 1194.4 1281.4 1194.7 1271.7 C1195 1262 1195.4 1256.4 1195.8 1257.5 C1196.2 1258.6 1197 1270.3 1197.5 1280 C1198 1289.7 1198.8 1318.4 1199.2 1330 C1199.6 1341.6 1200.4 1366.7 1200.8 1366.7 C1201.2 1366.7 1202 1341.1 1202.5 1330 C1203 1318.9 1203.8 1291.1 1204.2 1283.3 C1204.6 1275.5 1205.3 1272.1 1205.8 1271.7 C1206.3 1271.3 1207.6 1276.2 1208.3 1280 C1209 1283.8 1210 1294.4 1210.8 1300 C1211.6 1305.6 1213.3 1316.6 1214.2 1321.7 C1215.1 1326.8 1216.7 1335.2 1217.5 1338.3 C1218.3 1341.4 1219.1 1344.2 1220 1345 C1220.9 1345.8 1223.3 1342.9 1224.2 1344.2 C1225.1 1345.5 1225.9 1351.8 1226.7 1355 C1227.5 1358.2 1229.1 1365.5 1230 1368.3 C1230.9 1371.1 1232.5 1375.3 1233.3 1375.8 C1234.1 1376.3 1235 1374.2 1235.8 1371.7 C1236.6 1369.2 1238.2 1360.3 1239.2 1356.7 C1240.2 1353.1 1242.2 1347.9 1243.3 1345 C1244.4 1342.1 1246.6 1336.7 1247.5 1335 C1248.4 1333.3 1249.1 1332.5 1250 1332.5 C1250.9 1332.5 1253.1 1334.4 1254.2 1334.7 C1255.3 1335 1257.2 1335.5 1258.3 1335 C1259.4 1334.5 1261.2 1331.4 1262.5 1330.8 C1263.8 1330.2 1266.9 1332.2 1268 1330.8 C1269.1 1329.4 1269.8 1323.8 1270.5 1320.5 C1271.2 1317.2 1272.4 1308.3 1273 1306 C1273.6 1303.7 1274.4 1302.6 1275 1303.3 C1275.6 1304 1276.3 1309.7 1277.2 1311.5 C1278.1 1313.3 1280.3 1315.2 1281.7 1316.7 C1283.1 1318.2 1286.1 1320.8 1287.5 1322.5 C1288.9 1324.2 1291.3 1328.6 1292.5 1329.2 C1293.7 1329.8 1295.7 1328.2 1296.7 1327 C1297.7 1325.8 1299.2 1321.7 1300 1320 C1300.8 1318.3 1301.7 1315.3 1302.5 1314.5 C1303.3 1313.7 1304.9 1313.5 1305.8 1314 C1306.7 1314.5 1308.3 1317 1309.2 1318 C1310.1 1319 1311.6 1322.1 1312.5 1321.7 C1313.4 1321.3 1314.8 1316.7 1315.8 1315 C1316.8 1313.3 1318.9 1311 1320 1309.2 C1321.1 1307.4 1323.1 1303.5 1324.2 1301.7 C1325.3 1299.9 1327.3 1296.8 1328.3 1295.8 C1329.3 1294.8 1330.8 1294.1 1331.7 1294.2 C1332.6 1294.3 1334 1295.4 1335 1296.7 C1336 1298 1338.1 1302 1339.2 1304.2 C1340.3 1306.4 1342.3 1311.3 1343.3 1313.3 C1344.3 1315.3 1345.9 1319.2 1346.7 1319.2 C1347.5 1319.2 1348.7 1315.4 1349.2 1313.3 C1349.7 1311.2 1350.3 1304.8 1350.8 1303.3 C1351.3 1301.8 1352.5 1300.9 1353.3 1301.7 C1354.1 1302.5 1355.8 1307.4 1356.7 1309.2 C1357.6 1311 1359.1 1314 1360 1315 C1360.9 1316 1362.2 1317.1 1363.3 1316.7 C1364.4 1316.3 1367.2 1312.6 1368.3 1311.7 C1369.4 1310.8 1370.7 1309.7 1371.7 1310 C1372.7 1310.3 1374.7 1312.4 1375.8 1314.2 C1376.9 1316 1378.9 1320.6 1380 1323.3 C1381.1 1326 1383.1 1331.3 1384.2 1334.2 C1385.3 1337.1 1387.3 1342.9 1388.3 1345 C1389.3 1347.1 1390.7 1350 1391.7 1350 C1392.7 1350 1394.6 1346.3 1395.8 1345 C1397 1343.7 1399.5 1341.3 1400.8 1340 C1402.1 1338.7 1404.6 1335.6 1405.8 1335 C1407 1334.4 1408.8 1335.3 1410 1335.3 C1411.2 1335.3 1413.9 1334.4 1415 1335 C1416.1 1335.6 1417.4 1338.6 1418.3 1340 C1419.2 1341.4 1420.8 1344.5 1421.7 1345.8 C1422.6 1347.1 1424.1 1347.9 1425 1350 C1425.9 1352.1 1427.4 1359 1428.3 1361.7 C1429.2 1364.4 1430.8 1368.5 1431.7 1370 C1432.6 1371.5 1433.9 1373 1435 1373.3 C1436.1 1373.6 1438.8 1371.8 1440 1372.5 C1441.2 1373.2 1443 1377.1 1444.2 1378.3 C1445.4 1379.5 1447.9 1380.6 1449.2 1381.7 C1450.5 1382.8 1452.9 1386.3 1454.2 1386.7 C1455.5 1387.1 1458 1384.8 1459.2 1385 C1460.4 1385.2 1462.4 1386.3 1463.3 1388.3 C1464.2 1390.3 1465.1 1396.2 1465.8 1400 C1466.5 1403.8 1467.7 1413.8 1468.3 1416.7 C1468.9 1419.6 1469.7 1421.5 1470.3 1421.7 C1470.9 1421.9 1471.9 1419.4 1472.5 1418.3 C1473.1 1417.2 1474.7 1414 1475 1413.3"/>
<path class="c" stroke="#ed7d31" stroke-width="5" d="M1101.8 880.4H1170.8"/>
<path class="c" stroke="#548235" stroke-width="5" d="M1101.8 976.2H1170.8"/>
<path class="c" stroke="#0070c0" stroke-width="5" d="M1101.8 1070.3H1170.8"/>
<text y="895.00" font-size="43"><tspan x="1179.19" textLength="156.84" lengthAdjust="spacingAndGlyphs">Gamma</tspan> <tspan x="1351.67" textLength="127.59" lengthAdjust="spacingAndGlyphs">Image</tspan></text>
<text transform="translate(1179.31 991.00) scale(1.0714 1)" font-size="43">Film</text>
<text transform="translate(1179.24 1086.20) scale(1.0924 1)" font-size="43">PMMA</text>
<text><tspan x="271.92" y="901.41" font-size="92.3" textLength="25.83" lengthAdjust="spacingAndGlyphs">(</tspan><tspan x="304.54" y="903.36" font-size="93.8" textLength="49.69" lengthAdjust="spacingAndGlyphs">b</tspan><tspan x="359.94" y="901.41" font-size="92.3" textLength="25.83" lengthAdjust="spacingAndGlyphs">)</tspan></text>
<g class="tk">
<text transform="translate(95.33 837.50) scale(0.9946 1)" font-size="51.3">1.2</text>
<text transform="translate(139.42 943.50) scale(0.9702 1)" font-size="51.3">1</text>
<text transform="translate(93.62 1048.50) scale(1.0247 1)" font-size="51.3">0.8</text>
<text transform="translate(93.62 1154.40) scale(1.0247 1)" font-size="51.3">0.6</text>
<text transform="translate(93.62 1260.50) scale(1.0244 1)" font-size="51.3">0.4</text>
<text transform="translate(93.63 1367.20) scale(1.0207 1)" font-size="51.3">0.2</text>
<text transform="translate(137.38 1473.60) scale(1.0542 1)" font-size="51.3">0</text>
<text transform="translate(207.04 1549.00) scale(1.0000 1)" font-size="53.5">0</text>
<text transform="translate(598.32 1549.00) scale(1.0000 1)" font-size="53.5">2</text>
<text transform="translate(990.39 1549.00) scale(1.0000 1)" font-size="53.5">4</text>
<text transform="translate(1381.55 1549.00) scale(1.0000 1)" font-size="53.5">6</text>
</g>
<text y="1618.50" font-size="65"><tspan x="545.60" textLength="186.05" lengthAdjust="spacingAndGlyphs">lateral</tspan> <tspan x="748.70" textLength="242.25" lengthAdjust="spacingAndGlyphs">distance</tspan> <tspan x="1008.97" textLength="134.40" lengthAdjust="spacingAndGlyphs">(cm)</tspan></text>
<text transform="translate(54.60 0) rotate(-90)" y="0" font-size="65"><tspan x="-1448.96" textLength="258.96" lengthAdjust="spacingAndGlyphs">Intensity</tspan> <tspan x="-1175.79" textLength="140.18" lengthAdjust="spacingAndGlyphs">(arb.</tspan> <tspan x="-1019.47" textLength="165.76" lengthAdjust="spacingAndGlyphs">units)</tspan></text>
</g>
</svg></body></html>
